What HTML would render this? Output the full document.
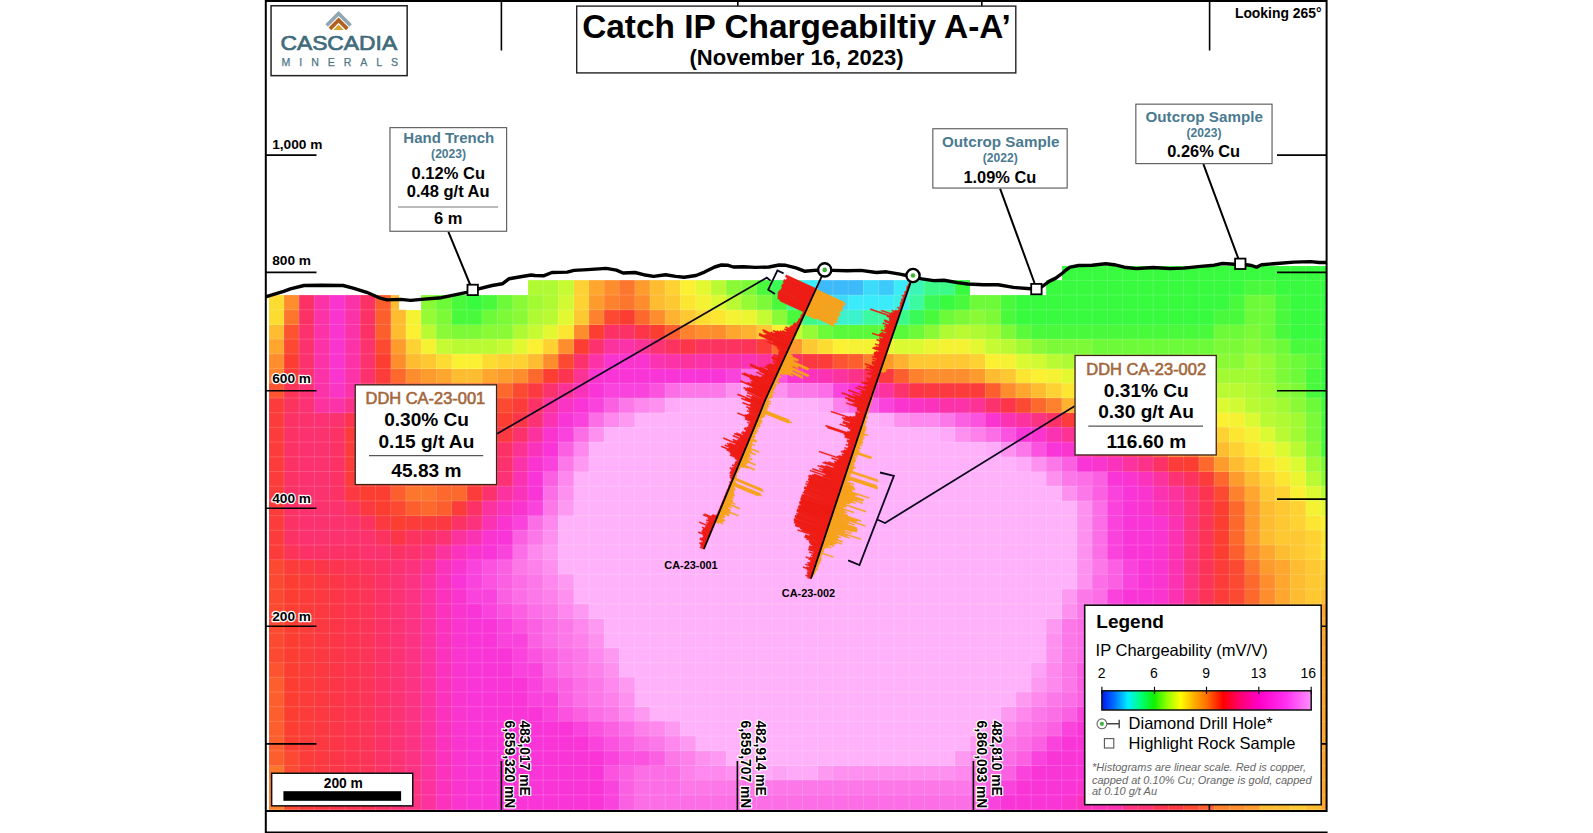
<!DOCTYPE html><html><head><meta charset="utf-8"><title>Catch IP Chargeability A-A'</title>
<style>html,body{margin:0;padding:0;background:#fff}body{width:1593px;height:833px;overflow:hidden}svg{display:block}text{font-family:"Liberation Sans",Arial,sans-serif}.b{font-weight:bold}.m{text-anchor:middle}.h{paint-order:stroke;stroke:#fff;stroke-width:2.4px;stroke-linejoin:round}</style></head><body>
<svg width="1593" height="833" viewBox="0 0 1593 833">
<rect width="1593" height="833" fill="#fff"/>
<g shape-rendering="crispEdges">
<path fill="#38fa3e" d="M1061.65 265.70H1327.00V280.40H1061.65zM954.90 280.40H970.15V295.10H954.90zM1046.40 280.40H1244.65V295.10H1046.40zM1275.15 280.40H1327.00V295.10H1275.15zM466.90 295.10H482.15V309.80H466.90zM939.65 295.10H954.90V309.80H939.65zM1015.90 295.10H1229.40V309.80H1015.90zM1290.40 295.10H1327.00V309.80H1290.40zM1015.90 309.80H1214.15V324.50H1015.90zM1290.40 309.80H1327.00V324.50H1290.40zM1290.40 324.50H1327.00V339.20H1290.40zM1320.90 339.20H1327.00V353.90H1320.90zM1320.90 353.90H1327.00V368.60H1320.90zM1320.90 368.60H1327.00V383.30H1320.90zM1320.90 383.30H1327.00V398.00H1320.90z"/>
<path fill="#affa32" d="M527.90 280.40H558.40V295.10H527.90zM543.15 295.10H558.40V309.80H543.15zM527.90 309.80H543.15V324.50H527.90zM512.65 324.50H527.90V339.20H512.65zM939.65 324.50H954.90V339.20H939.65zM970.15 324.50H985.40V339.20H970.15zM1061.65 353.90H1076.90V368.60H1061.65zM1107.40 368.60H1122.65V383.30H1107.40zM1137.90 383.30H1153.15V398.00H1137.90zM1244.65 383.30H1259.90V398.00H1244.65zM1259.90 398.00H1275.15V412.70H1259.90zM1275.15 412.70H1290.40V427.40H1275.15z"/>
<path fill="#c6fa32" d="M558.40 280.40H573.65V295.10H558.40zM756.65 309.80H771.90V324.50H756.65zM527.90 324.50H543.15V339.20H527.90zM787.15 324.50H802.40V339.20H787.15zM436.40 339.20H451.65V353.90H436.40zM497.40 339.20H512.65V353.90H497.40zM985.40 339.20H1000.65V353.90H985.40zM1183.65 383.30H1198.90V398.00H1183.65zM1153.15 398.00H1183.65V412.70H1153.15z"/>
<path fill="#fed232" d="M573.65 280.40H588.90V295.10H573.65zM665.15 280.40H680.40V295.10H665.15zM573.65 295.10H588.90V309.80H573.65zM405.90 339.20H421.15V353.90H405.90zM543.15 339.20H558.40V353.90H543.15zM497.40 353.90H527.90V368.60H497.40zM970.15 353.90H985.40V368.60H970.15zM1046.40 383.30H1061.65V398.00H1046.40zM1137.90 412.70H1153.15V427.40H1137.90zM1183.65 412.70H1198.90V427.40H1183.65zM1214.15 427.40H1229.40V442.10H1214.15zM1229.40 442.10H1244.65V456.80H1229.40zM1244.65 456.80H1259.90V471.50H1244.65zM1259.90 471.50H1275.15V486.20H1259.90zM1275.15 486.20H1290.40V500.90H1275.15zM1290.40 500.90H1305.65V515.60H1290.40zM1290.40 515.60H1305.65V530.30H1290.40zM1305.65 530.30H1320.90V545.00H1305.65zM1305.65 545.00H1320.90V559.70H1305.65zM1320.90 559.70H1327.00V574.40H1320.90z"/>
<path fill="#fea62e" d="M588.90 280.40H604.15V295.10H588.90zM726.15 324.50H741.40V339.20H726.15zM268.65 339.20H283.90V353.90H268.65zM436.40 368.60H451.65V383.30H436.40zM482.15 368.60H497.40V383.30H482.15zM1015.90 383.30H1031.15V398.00H1015.90zM1107.40 412.70H1122.65V427.40H1107.40zM1153.15 427.40H1168.40V442.10H1153.15zM1183.65 427.40H1198.90V442.10H1183.65zM1244.65 486.20H1259.90V500.90H1244.65zM1259.90 545.00H1275.15V559.70H1259.90zM1275.15 559.70H1290.40V574.40H1275.15zM1275.15 574.40H1290.40V589.10H1275.15zM1275.15 589.10H1290.40V603.80H1275.15zM1275.15 603.80H1290.40V618.50H1275.15zM1320.90 603.80H1327.00V618.50H1320.90zM1275.15 618.50H1290.40V633.20H1275.15zM1320.90 618.50H1327.00V633.20H1320.90zM1275.15 633.20H1290.40V647.90H1275.15zM1320.90 633.20H1327.00V647.90H1320.90zM1275.15 647.90H1290.40V662.60H1275.15zM1320.90 647.90H1327.00V662.60H1320.90zM1275.15 662.60H1290.40V677.30H1275.15zM1320.90 662.60H1327.00V677.30H1320.90zM1275.15 677.30H1290.40V692.00H1275.15zM1320.90 677.30H1327.00V692.00H1320.90zM1275.15 692.00H1290.40V706.70H1275.15zM1320.90 692.00H1327.00V706.70H1320.90zM1275.15 706.70H1290.40V721.40H1275.15zM1320.90 706.70H1327.00V721.40H1320.90zM1275.15 721.40H1290.40V736.10H1275.15zM1320.90 721.40H1327.00V736.10H1320.90zM1275.15 736.10H1290.40V750.80H1275.15zM1320.90 736.10H1327.00V750.80H1320.90zM1275.15 750.80H1290.40V765.50H1275.15zM1320.90 750.80H1327.00V765.50H1320.90zM1275.15 765.50H1290.40V780.20H1275.15zM1320.90 765.50H1327.00V780.20H1320.90zM1275.15 780.20H1290.40V794.90H1275.15zM1320.90 780.20H1327.00V794.90H1320.90zM1320.90 794.90H1327.00V809.60H1320.90z"/>
<path fill="#fe8e2d" d="M604.15 280.40H619.40V295.10H604.15zM283.90 295.10H299.15V309.80H283.90zM634.65 295.10H649.90V309.80H634.65zM649.90 309.80H665.15V324.50H649.90zM573.65 324.50H588.90V339.20H573.65zM695.65 324.50H726.15V339.20H695.65zM558.40 339.20H573.65V353.90H558.40zM268.65 353.90H283.90V368.60H268.65zM390.65 353.90H405.90V368.60H390.65zM543.15 353.90H558.40V368.60H543.15zM405.90 368.60H421.15V383.30H405.90zM512.65 368.60H527.90V383.30H512.65zM924.40 368.60H970.15V383.30H924.40zM1000.65 383.30H1015.90V398.00H1000.65zM1092.15 412.70H1107.40V427.40H1092.15zM1137.90 427.40H1153.15V442.10H1137.90zM1244.65 545.00H1259.90V559.70H1244.65zM1259.90 574.40H1275.15V589.10H1259.90zM1259.90 589.10H1275.15V603.80H1259.90zM1259.90 603.80H1275.15V618.50H1259.90zM1259.90 618.50H1275.15V633.20H1259.90zM1259.90 633.20H1275.15V647.90H1259.90zM1259.90 647.90H1275.15V662.60H1259.90zM1259.90 662.60H1275.15V677.30H1259.90zM1259.90 677.30H1275.15V692.00H1259.90zM1259.90 692.00H1275.15V706.70H1259.90zM1259.90 706.70H1275.15V721.40H1259.90zM1259.90 721.40H1275.15V736.10H1259.90zM1259.90 736.10H1275.15V750.80H1259.90zM1259.90 750.80H1275.15V765.50H1259.90zM1259.90 765.50H1275.15V780.20H1259.90zM1229.40 794.90H1244.65V809.60H1229.40z"/>
<path fill="#fd762d" d="M619.40 280.40H634.65V295.10H619.40zM619.40 295.10H634.65V309.80H619.40zM283.90 309.80H299.15V324.50H283.90zM451.65 383.30H482.15V398.00H451.65zM1183.65 442.10H1198.90V456.80H1183.65zM405.90 486.20H436.40V500.90H405.90zM1244.65 559.70H1259.90V574.40H1244.65zM268.65 765.50H283.90V780.20H268.65zM1244.65 780.20H1259.90V794.90H1244.65z"/>
<path fill="#fe9b2d" d="M634.65 280.40H649.90V295.10H634.65zM588.90 295.10H604.15V309.80H588.90zM390.65 339.20H405.90V353.90H390.65zM787.15 339.20H802.40V353.90H787.15zM878.65 353.90H893.90V368.60H878.65zM421.15 368.60H436.40V383.30H421.15zM497.40 368.60H512.65V383.30H497.40zM970.15 368.60H985.40V383.30H970.15zM1198.90 442.10H1214.15V456.80H1198.90zM1214.15 456.80H1229.40V471.50H1214.15zM1229.40 471.50H1244.65V486.20H1229.40zM1244.65 500.90H1259.90V515.60H1244.65zM1244.65 515.60H1259.90V530.30H1244.65zM1244.65 530.30H1259.90V545.00H1244.65zM1259.90 559.70H1275.15V574.40H1259.90zM1259.90 780.20H1275.15V794.90H1259.90zM1244.65 794.90H1259.90V809.60H1244.65z"/>
<path fill="#febd31" d="M649.90 280.40H665.15V295.10H649.90zM390.65 295.10H405.90V309.80H390.65zM649.90 295.10H665.15V309.80H649.90zM390.65 309.80H405.90V324.50H390.65zM268.65 324.50H283.90V339.20H268.65zM390.65 324.50H405.90V339.20H390.65zM405.90 353.90H421.15V368.60H405.90zM527.90 353.90H543.15V368.60H527.90zM451.65 368.60H482.15V383.30H451.65zM985.40 368.60H1000.65V383.30H985.40zM1031.15 383.30H1046.40V398.00H1031.15zM1122.65 412.70H1137.90V427.40H1122.65zM1168.40 427.40H1183.65V442.10H1168.40zM1198.90 427.40H1214.15V442.10H1198.90zM1214.15 442.10H1229.40V456.80H1214.15zM1229.40 456.80H1244.65V471.50H1229.40zM1244.65 471.50H1259.90V486.20H1244.65zM1259.90 500.90H1275.15V515.60H1259.90zM1259.90 515.60H1275.15V530.30H1259.90zM1259.90 530.30H1275.15V545.00H1259.90zM1275.15 545.00H1290.40V559.70H1275.15zM1290.40 559.70H1305.65V574.40H1290.40zM1290.40 574.40H1305.65V589.10H1290.40zM1290.40 589.10H1305.65V603.80H1290.40zM1320.90 589.10H1327.00V603.80H1320.90zM1290.40 603.80H1320.90V618.50H1290.40zM1290.40 618.50H1320.90V633.20H1290.40zM1290.40 633.20H1320.90V647.90H1290.40zM1290.40 647.90H1320.90V662.60H1290.40zM1290.40 662.60H1320.90V677.30H1290.40zM1290.40 677.30H1320.90V692.00H1290.40zM1290.40 692.00H1320.90V706.70H1290.40zM1290.40 706.70H1320.90V721.40H1290.40zM1290.40 721.40H1320.90V736.10H1290.40zM1290.40 736.10H1320.90V750.80H1290.40zM1290.40 750.80H1320.90V765.50H1290.40zM1290.40 765.50H1320.90V780.20H1290.40zM1290.40 780.20H1320.90V794.90H1290.40zM1259.90 794.90H1290.40V809.60H1259.90zM1305.65 794.90H1320.90V809.60H1305.65z"/>
<path fill="#fcf032" d="M680.40 280.40H695.65V295.10H680.40zM405.90 324.50H421.15V339.20H405.90zM771.90 324.50H787.15V339.20H771.90zM527.90 339.20H543.15V353.90H527.90zM832.90 339.20H848.15V353.90H832.90zM451.65 353.90H482.15V368.60H451.65zM985.40 353.90H1000.65V368.60H985.40zM1031.15 368.60H1046.40V383.30H1031.15zM1107.40 398.00H1122.65V412.70H1107.40zM1153.15 412.70H1183.65V427.40H1153.15zM1214.15 412.70H1229.40V427.40H1214.15zM1290.40 486.20H1305.65V500.90H1290.40zM1320.90 515.60H1327.00V530.30H1320.90z"/>
<path fill="#e4f832" d="M695.65 280.40H710.90V295.10H695.65zM558.40 309.80H573.65V324.50H558.40zM543.15 324.50H558.40V339.20H543.15zM512.65 339.20H527.90V353.90H512.65zM970.15 339.20H985.40V353.90H970.15zM1061.65 368.60H1076.90V383.30H1061.65zM1092.15 383.30H1107.40V398.00H1092.15zM1122.65 398.00H1137.90V412.70H1122.65zM1198.90 398.00H1214.15V412.70H1198.90zM1320.90 500.90H1327.00V515.60H1320.90z"/>
<path fill="#bafa32" d="M710.90 280.40H726.15V295.10H710.90zM726.15 295.10H741.40V309.80H726.15zM543.15 309.80H558.40V324.50H543.15zM421.15 324.50H436.40V339.20H421.15zM954.90 324.50H970.15V339.20H954.90zM451.65 339.20H497.40V353.90H451.65zM1000.65 339.20H1015.90V353.90H1000.65zM1046.40 353.90H1061.65V368.60H1046.40zM1092.15 368.60H1107.40V383.30H1092.15zM1122.65 383.30H1137.90V398.00H1122.65zM1198.90 383.30H1244.65V398.00H1198.90zM1244.65 398.00H1259.90V412.70H1244.65zM1259.90 412.70H1275.15V427.40H1259.90zM1275.15 427.40H1290.40V442.10H1275.15zM1290.40 442.10H1305.65V456.80H1290.40zM1305.65 471.50H1320.90V486.20H1305.65zM1320.90 486.20H1327.00V500.90H1320.90z"/>
<path fill="#8afa36" d="M726.15 280.40H741.40V295.10H726.15zM421.15 295.10H436.40V309.80H421.15zM512.65 295.10H527.90V309.80H512.65zM512.65 309.80H527.90V324.50H512.65zM771.90 309.80H787.15V324.50H771.90zM970.15 309.80H985.40V324.50H970.15zM436.40 324.50H451.65V339.20H436.40zM482.15 324.50H512.65V339.20H482.15zM924.40 324.50H939.65V339.20H924.40zM1031.15 339.20H1046.40V353.90H1031.15zM1244.65 339.20H1259.90V353.90H1244.65zM1092.15 353.90H1137.90V368.60H1092.15zM1183.65 353.90H1244.65V368.60H1183.65zM1137.90 368.60H1183.65V383.30H1137.90zM1275.15 383.30H1290.40V398.00H1275.15zM1290.40 398.00H1305.65V412.70H1290.40zM1305.65 442.10H1320.90V456.80H1305.65zM1320.90 471.50H1327.00V486.20H1320.90z"/>
<path fill="#7dfa37" d="M741.40 280.40H756.65V295.10H741.40zM756.65 295.10H771.90V309.80H756.65zM436.40 309.80H451.65V324.50H436.40zM497.40 309.80H512.65V324.50H497.40zM954.90 309.80H970.15V324.50H954.90zM985.40 309.80H1000.65V324.50H985.40zM451.65 324.50H482.15V339.20H451.65zM1000.65 324.50H1015.90V339.20H1000.65zM1244.65 324.50H1259.90V339.20H1244.65zM1046.40 339.20H1092.15V353.90H1046.40zM1214.15 339.20H1244.65V353.90H1214.15zM1259.90 339.20H1275.15V353.90H1259.90zM1137.90 353.90H1183.65V368.60H1137.90zM1275.15 353.90H1290.40V368.60H1275.15zM1275.15 368.60H1290.40V383.30H1275.15zM1290.40 383.30H1305.65V398.00H1290.40zM1305.65 412.70H1320.90V427.40H1305.65zM1305.65 427.40H1320.90V442.10H1305.65zM1320.90 456.80H1327.00V471.50H1320.90z"/>
<path fill="#49fa3c" d="M756.65 280.40H771.90V295.10H756.65zM1244.65 280.40H1275.15V295.10H1244.65zM451.65 295.10H466.90V309.80H451.65zM482.15 295.10H497.40V309.80H482.15zM771.90 295.10H787.15V309.80H771.90zM954.90 295.10H970.15V309.80H954.90zM1000.65 295.10H1015.90V309.80H1000.65zM1229.40 295.10H1244.65V309.80H1229.40zM1275.15 295.10H1290.40V309.80H1275.15zM451.65 309.80H482.15V324.50H451.65zM787.15 309.80H802.40V324.50H787.15zM924.40 309.80H939.65V324.50H924.40zM1000.65 309.80H1015.90V324.50H1000.65zM1214.15 309.80H1244.65V324.50H1214.15zM1275.15 309.80H1290.40V324.50H1275.15zM1031.15 324.50H1214.15V339.20H1031.15zM1275.15 324.50H1290.40V339.20H1275.15zM1290.40 339.20H1320.90V353.90H1290.40zM1305.65 368.60H1320.90V383.30H1305.65zM1305.65 383.30H1320.90V398.00H1305.65zM1320.90 398.00H1327.00V412.70H1320.90zM1320.90 412.70H1327.00V427.40H1320.90zM1320.90 427.40H1327.00V442.10H1320.90zM1320.90 442.10H1327.00V456.80H1320.90z"/>
<path fill="#39fa56" d="M771.90 280.40H787.15V295.10H771.90zM924.40 295.10H939.65V309.80H924.40zM909.15 309.80H924.40V324.50H909.15z"/>
<path fill="#3cfaa0" d="M787.15 280.40H802.40V295.10H787.15zM909.15 295.10H924.40V309.80H909.15zM817.65 309.80H832.90V324.50H817.65zM863.40 309.80H893.90V324.50H863.40z"/>
<path fill="#3cebfa" d="M802.40 280.40H817.65V295.10H802.40zM893.90 280.40H909.15V295.10H893.90zM817.65 295.10H832.90V309.80H817.65zM848.15 295.10H893.90V309.80H848.15z"/>
<path fill="#3cbafa" d="M817.65 280.40H863.40V295.10H817.65z"/>
<path fill="#3cdbfa" d="M863.40 280.40H878.65V295.10H863.40zM832.90 295.10H848.15V309.80H832.90z"/>
<path fill="#3ccafa" d="M878.65 280.40H893.90V295.10H878.65z"/>
<path fill="#3cf6b6" d="M909.15 280.40H924.40V295.10H909.15z"/>
<path fill="#3bfa88" d="M924.40 280.40H954.90V295.10H924.40zM787.15 295.10H802.40V309.80H787.15zM802.40 309.80H817.65V324.50H802.40zM893.90 309.80H909.15V324.50H893.90z"/>
<path fill="#fddc32" d="M268.65 295.10H283.90V309.80H268.65zM268.65 309.80H283.90V324.50H268.65zM695.65 309.80H710.90V324.50H695.65zM817.65 339.20H832.90V353.90H817.65zM436.40 353.90H451.65V368.60H436.40zM482.15 353.90H497.40V368.60H482.15zM1198.90 412.70H1214.15V427.40H1198.90z"/>
<path fill="#fc3266" d="M299.15 295.10H314.40V309.80H299.15zM360.15 295.10H375.40V309.80H360.15zM299.15 309.80H314.40V324.50H299.15zM360.15 309.80H375.40V324.50H360.15zM360.15 324.50H375.40V339.20H360.15zM604.15 324.50H634.65V339.20H604.15zM863.40 368.60H878.65V383.30H863.40zM360.15 398.00H375.40V412.70H360.15zM527.90 398.00H543.15V412.70H527.90zM283.90 412.70H299.15V427.40H283.90zM1046.40 412.70H1061.65V427.40H1046.40zM283.90 427.40H299.15V442.10H283.90zM329.65 427.40H344.90V442.10H329.65zM1076.90 427.40H1092.15V442.10H1076.90zM283.90 442.10H299.15V456.80H283.90zM329.65 442.10H344.90V456.80H329.65zM497.40 442.10H512.65V456.80H497.40zM283.90 456.80H299.15V471.50H283.90zM329.65 456.80H344.90V471.50H329.65zM1153.15 456.80H1168.40V471.50H1153.15zM283.90 471.50H299.15V486.20H283.90zM329.65 471.50H344.90V486.20H329.65zM283.90 486.20H299.15V500.90H283.90zM329.65 486.20H344.90V500.90H329.65zM283.90 500.90H299.15V515.60H283.90zM466.90 500.90H482.15V515.60H466.90zM283.90 515.60H299.15V530.30H283.90zM451.65 515.60H466.90V530.30H451.65zM283.90 530.30H299.15V545.00H283.90zM421.15 530.30H436.40V545.00H421.15zM299.15 545.00H360.15V559.70H299.15zM390.65 545.00H405.90V559.70H390.65zM375.40 559.70H390.65V574.40H375.40zM375.40 574.40H390.65V589.10H375.40zM375.40 589.10H390.65V603.80H375.40zM375.40 603.80H390.65V618.50H375.40zM375.40 618.50H390.65V633.20H375.40zM375.40 633.20H390.65V647.90H375.40zM375.40 647.90H390.65V662.60H375.40zM375.40 662.60H390.65V677.30H375.40zM375.40 677.30H390.65V692.00H375.40zM375.40 692.00H390.65V706.70H375.40zM375.40 706.70H390.65V721.40H375.40zM375.40 721.40H390.65V736.10H375.40zM375.40 736.10H390.65V750.80H375.40zM375.40 750.80H390.65V765.50H375.40zM375.40 765.50H390.65V780.20H375.40zM375.40 780.20H390.65V794.90H375.40zM375.40 794.90H390.65V809.60H375.40z"/>
<path fill="#fb32a8" d="M314.40 295.10H329.65V309.80H314.40zM344.90 295.10H360.15V309.80H344.90zM314.40 309.80H329.65V324.50H314.40zM344.90 309.80H360.15V324.50H344.90zM314.40 324.50H329.65V339.20H314.40zM344.90 324.50H360.15V339.20H344.90zM314.40 339.20H329.65V353.90H314.40zM344.90 339.20H360.15V353.90H344.90zM619.40 339.20H634.65V353.90H619.40zM314.40 353.90H329.65V368.60H314.40zM344.90 353.90H360.15V368.60H344.90zM588.90 353.90H604.15V368.60H588.90zM665.15 353.90H680.40V368.60H665.15zM695.65 353.90H741.40V368.60H695.65zM314.40 368.60H329.65V383.30H314.40zM344.90 368.60H360.15V383.30H344.90zM314.40 383.30H329.65V398.00H314.40zM344.90 383.30H360.15V398.00H344.90zM329.65 398.00H344.90V412.70H329.65zM939.65 398.00H970.15V412.70H939.65zM1076.90 442.10H1092.15V456.80H1076.90zM512.65 456.80H527.90V471.50H512.65zM1168.40 500.90H1183.65V515.60H1168.40z"/>
<path fill="#fa34ce" d="M329.65 295.10H344.90V309.80H329.65zM329.65 309.80H344.90V324.50H329.65zM329.65 324.50H344.90V339.20H329.65zM329.65 339.20H344.90V353.90H329.65zM329.65 353.90H344.90V368.60H329.65zM604.15 353.90H649.90V368.60H604.15zM329.65 368.60H344.90V383.30H329.65zM588.90 368.60H604.15V383.30H588.90zM787.15 368.60H802.40V383.30H787.15zM893.90 398.00H909.15V412.70H893.90zM985.40 412.70H1000.65V427.40H985.40zM543.15 427.40H558.40V442.10H543.15zM1031.15 427.40H1046.40V442.10H1031.15zM1061.65 442.10H1076.90V456.80H1061.65zM527.90 456.80H543.15V471.50H527.90zM1092.15 456.80H1107.40V471.50H1092.15zM1122.65 471.50H1137.90V486.20H1122.65zM1137.90 486.20H1153.15V500.90H1137.90zM512.65 500.90H527.90V515.60H512.65zM1137.90 500.90H1153.15V515.60H1137.90zM497.40 515.60H512.65V530.30H497.40zM1153.15 515.60H1168.40V530.30H1153.15zM482.15 530.30H497.40V545.00H482.15zM1153.15 530.30H1168.40V545.00H1153.15zM466.90 545.00H482.15V559.70H466.90zM1153.15 545.00H1168.40V559.70H1153.15zM451.65 559.70H466.90V574.40H451.65zM1153.15 559.70H1168.40V574.40H1153.15zM1153.15 574.40H1168.40V589.10H1153.15zM451.65 589.10H466.90V603.80H451.65zM1153.15 589.10H1168.40V603.80H1153.15zM451.65 603.80H466.90V618.50H451.65zM1153.15 603.80H1168.40V618.50H1153.15zM451.65 618.50H466.90V633.20H451.65zM1153.15 618.50H1168.40V633.20H1153.15zM451.65 633.20H466.90V647.90H451.65zM1153.15 633.20H1168.40V647.90H1153.15zM451.65 647.90H466.90V662.60H451.65zM1153.15 647.90H1168.40V662.60H1153.15zM451.65 662.60H466.90V677.30H451.65zM1153.15 662.60H1168.40V677.30H1153.15zM451.65 677.30H466.90V692.00H451.65zM1153.15 677.30H1168.40V692.00H1153.15zM451.65 692.00H466.90V706.70H451.65zM1153.15 692.00H1168.40V706.70H1153.15zM451.65 706.70H466.90V721.40H451.65zM1153.15 706.70H1168.40V721.40H1153.15zM451.65 721.40H466.90V736.10H451.65zM1153.15 721.40H1168.40V736.10H1153.15zM451.65 736.10H466.90V750.80H451.65zM1153.15 736.10H1168.40V750.80H1153.15zM451.65 750.80H466.90V765.50H451.65zM1153.15 750.80H1168.40V765.50H1153.15zM451.65 765.50H466.90V780.20H451.65zM1153.15 765.50H1168.40V780.20H1153.15zM451.65 780.20H466.90V794.90H451.65zM1076.90 780.20H1122.65V794.90H1076.90zM451.65 794.90H466.90V809.60H451.65zM1061.65 794.90H1076.90V809.60H1061.65z"/>
<path fill="#fd5e2e" d="M375.40 295.10H390.65V309.80H375.40zM375.40 309.80H390.65V324.50H375.40zM375.40 324.50H390.65V339.20H375.40zM665.15 324.50H680.40V339.20H665.15zM848.15 353.90H863.40V368.60H848.15zM893.90 368.60H909.15V383.30H893.90zM405.90 383.30H421.15V398.00H405.90zM985.40 383.30H1000.65V398.00H985.40zM1076.90 412.70H1092.15V427.40H1076.90zM1153.15 442.10H1168.40V456.80H1153.15zM390.65 486.20H405.90V500.90H390.65zM405.90 500.90H421.15V515.60H405.90zM436.40 500.90H451.65V515.60H436.40zM1229.40 545.00H1244.65V559.70H1229.40zM268.65 677.30H283.90V692.00H268.65zM268.65 692.00H283.90V706.70H268.65zM268.65 706.70H283.90V721.40H268.65zM268.65 721.40H283.90V736.10H268.65zM268.65 736.10H283.90V750.80H268.65zM268.65 750.80H283.90V765.50H268.65zM1198.90 794.90H1214.15V809.60H1198.90z"/>
<path fill="#6cfa39" d="M436.40 295.10H451.65V309.80H436.40zM497.40 295.10H512.65V309.80H497.40zM970.15 295.10H1000.65V309.80H970.15zM1244.65 295.10H1275.15V309.80H1244.65zM482.15 309.80H497.40V324.50H482.15zM939.65 309.80H954.90V324.50H939.65zM1244.65 309.80H1275.15V324.50H1244.65zM817.65 324.50H832.90V339.20H817.65zM909.15 324.50H924.40V339.20H909.15zM1214.15 324.50H1244.65V339.20H1214.15zM1259.90 324.50H1275.15V339.20H1259.90zM1092.15 339.20H1214.15V353.90H1092.15zM1275.15 339.20H1290.40V353.90H1275.15zM1290.40 353.90H1305.65V368.60H1290.40zM1290.40 368.60H1305.65V383.30H1290.40zM1305.65 398.00H1320.90V412.70H1305.65z"/>
<path fill="#a2fa33" d="M527.90 295.10H543.15V309.80H527.90zM985.40 324.50H1000.65V339.20H985.40zM1015.90 339.20H1031.15V353.90H1015.90zM1076.90 353.90H1092.15V368.60H1076.90zM1244.65 353.90H1259.90V368.60H1244.65zM1122.65 368.60H1137.90V383.30H1122.65zM1183.65 368.60H1259.90V383.30H1183.65zM1153.15 383.30H1168.40V398.00H1153.15zM1259.90 383.30H1275.15V398.00H1259.90zM1275.15 398.00H1290.40V412.70H1275.15zM1290.40 412.70H1305.65V427.40H1290.40zM1290.40 427.40H1305.65V442.10H1290.40zM1305.65 456.80H1320.90V471.50H1305.65z"/>
<path fill="#d1fa32" d="M558.40 295.10H573.65V309.80H558.40zM1031.15 353.90H1046.40V368.60H1031.15zM1076.90 368.60H1092.15V383.30H1076.90zM1107.40 383.30H1122.65V398.00H1107.40zM1229.40 398.00H1244.65V412.70H1229.40z"/>
<path fill="#fe822d" d="M604.15 295.10H619.40V309.80H604.15zM588.90 309.80H604.15V324.50H588.90zM680.40 324.50H695.65V339.20H680.40zM863.40 353.90H878.65V368.60H863.40zM268.65 368.60H283.90V383.30H268.65zM909.15 368.60H924.40V383.30H909.15zM1046.40 398.00H1061.65V412.70H1046.40zM1168.40 442.10H1183.65V456.80H1168.40zM1229.40 486.20H1244.65V500.90H1229.40zM268.65 780.20H283.90V794.90H268.65zM268.65 794.90H283.90V809.60H268.65zM1214.15 794.90H1229.40V809.60H1214.15z"/>
<path fill="#fec832" d="M665.15 295.10H680.40V309.80H665.15zM573.65 309.80H588.90V324.50H573.65zM680.40 309.80H695.65V324.50H680.40zM756.65 324.50H771.90V339.20H756.65zM802.40 339.20H817.65V353.90H802.40zM421.15 353.90H436.40V368.60H421.15zM909.15 353.90H970.15V368.60H909.15zM1000.65 368.60H1015.90V383.30H1000.65zM1076.90 398.00H1092.15V412.70H1076.90zM1259.90 486.20H1275.15V500.90H1259.90zM1275.15 500.90H1290.40V515.60H1275.15zM1275.15 515.60H1290.40V530.30H1275.15zM1275.15 530.30H1305.65V545.00H1275.15zM1290.40 545.00H1305.65V559.70H1290.40zM1305.65 559.70H1320.90V574.40H1305.65zM1305.65 574.40H1327.00V589.10H1305.65zM1305.65 589.10H1320.90V603.80H1305.65zM1290.40 794.90H1305.65V809.60H1290.40z"/>
<path fill="#fce632" d="M680.40 295.10H695.65V309.80H680.40zM710.90 309.80H726.15V324.50H710.90zM558.40 324.50H573.65V339.20H558.40zM1015.90 368.60H1031.15V383.30H1015.90zM1061.65 383.30H1076.90V398.00H1061.65zM1092.15 398.00H1107.40V412.70H1092.15zM1229.40 427.40H1244.65V442.10H1229.40zM1244.65 442.10H1259.90V456.80H1244.65zM1259.90 456.80H1275.15V471.50H1259.90zM1275.15 471.50H1290.40V486.20H1275.15zM1305.65 515.60H1320.90V530.30H1305.65zM1320.90 530.30H1327.00V545.00H1320.90zM1320.90 545.00H1327.00V559.70H1320.90z"/>
<path fill="#f4f232" d="M695.65 295.10H710.90V309.80H695.65zM405.90 309.80H421.15V324.50H405.90zM726.15 309.80H741.40V324.50H726.15zM421.15 339.20H436.40V353.90H421.15zM848.15 339.20H878.65V353.90H848.15zM939.65 339.20H970.15V353.90H939.65zM1000.65 353.90H1015.90V368.60H1000.65zM1046.40 368.60H1061.65V383.30H1046.40zM1076.90 383.30H1092.15V398.00H1076.90zM1229.40 412.70H1244.65V427.40H1229.40zM1244.65 427.40H1259.90V442.10H1244.65zM1259.90 442.10H1275.15V456.80H1259.90zM1275.15 456.80H1290.40V471.50H1275.15zM1305.65 500.90H1320.90V515.60H1305.65z"/>
<path fill="#dcfa32" d="M710.90 295.10H726.15V309.80H710.90zM893.90 339.20H924.40V353.90H893.90zM1015.90 353.90H1031.15V368.60H1015.90zM1137.90 398.00H1153.15V412.70H1137.90zM1214.15 398.00H1229.40V412.70H1214.15zM1244.65 412.70H1259.90V427.40H1244.65zM1259.90 427.40H1275.15V442.10H1259.90zM1275.15 442.10H1290.40V456.80H1275.15zM1290.40 456.80H1305.65V471.50H1290.40zM1305.65 486.20H1320.90V500.90H1305.65z"/>
<path fill="#96fa34" d="M741.40 295.10H756.65V309.80H741.40zM421.15 309.80H436.40V324.50H421.15zM802.40 324.50H817.65V339.20H802.40zM1259.90 353.90H1275.15V368.60H1259.90zM1259.90 368.60H1275.15V383.30H1259.90zM1168.40 383.30H1183.65V398.00H1168.40z"/>
<path fill="#3cefe4" d="M802.40 295.10H817.65V309.80H802.40zM893.90 295.10H909.15V309.80H893.90z"/>
<path fill="#fc4931" d="M604.15 309.80H619.40V324.50H604.15zM283.90 339.20H299.15V353.90H283.90zM375.40 339.20H390.65V353.90H375.40zM558.40 353.90H573.65V368.60H558.40zM390.65 383.30H405.90V398.00H390.65zM512.65 383.30H527.90V398.00H512.65zM405.90 398.00H512.65V412.70H405.90zM1015.90 398.00H1031.15V412.70H1015.90zM1107.40 427.40H1122.65V442.10H1107.40zM390.65 471.50H466.90V486.20H390.65zM1214.15 486.20H1229.40V500.90H1214.15zM390.65 500.90H405.90V515.60H390.65zM268.65 559.70H283.90V574.40H268.65zM1229.40 559.70H1244.65V574.40H1229.40zM268.65 574.40H283.90V589.10H268.65zM1229.40 574.40H1244.65V589.10H1229.40zM268.65 589.10H283.90V603.80H268.65zM1229.40 589.10H1244.65V603.80H1229.40zM268.65 603.80H283.90V618.50H268.65zM1229.40 603.80H1244.65V618.50H1229.40zM268.65 618.50H283.90V633.20H268.65zM1229.40 618.50H1244.65V633.20H1229.40zM268.65 633.20H283.90V647.90H268.65zM1229.40 633.20H1244.65V647.90H1229.40zM268.65 647.90H283.90V662.60H268.65zM1229.40 647.90H1244.65V662.60H1229.40zM1229.40 662.60H1244.65V677.30H1229.40zM1229.40 677.30H1244.65V692.00H1229.40zM1229.40 692.00H1244.65V706.70H1229.40zM1229.40 706.70H1244.65V721.40H1229.40zM1229.40 721.40H1244.65V736.10H1229.40zM1229.40 736.10H1244.65V750.80H1229.40zM283.90 750.80H299.15V765.50H283.90zM1229.40 750.80H1244.65V765.50H1229.40zM283.90 765.50H299.15V780.20H283.90zM1229.40 765.50H1244.65V780.20H1229.40zM283.90 780.20H299.15V794.90H283.90zM1214.15 780.20H1229.40V794.90H1214.15zM283.90 794.90H299.15V809.60H283.90zM1183.65 794.90H1198.90V809.60H1183.65z"/>
<path fill="#fc3e32" d="M619.40 309.80H634.65V324.50H619.40zM588.90 324.50H604.15V339.20H588.90zM649.90 324.50H665.15V339.20H649.90zM573.65 339.20H588.90V353.90H573.65zM283.90 353.90H299.15V368.60H283.90zM375.40 353.90H390.65V368.60H375.40zM543.15 368.60H558.40V383.30H543.15zM390.65 398.00H405.90V412.70H390.65zM375.40 412.70H512.65V427.40H375.40zM360.15 427.40H497.40V442.10H360.15zM360.15 442.10H482.15V456.80H360.15zM360.15 456.80H482.15V471.50H360.15zM1183.65 456.80H1198.90V471.50H1183.65zM360.15 471.50H390.65V486.20H360.15zM466.90 471.50H482.15V486.20H466.90zM360.15 486.20H390.65V500.90H360.15zM375.40 500.90H390.65V515.60H375.40zM1214.15 500.90H1229.40V515.60H1214.15zM390.65 515.60H405.90V530.30H390.65zM1214.15 515.60H1229.40V530.30H1214.15zM1214.15 530.30H1229.40V545.00H1214.15zM1214.15 545.00H1229.40V559.70H1214.15zM283.90 574.40H299.15V589.10H283.90zM283.90 589.10H299.15V603.80H283.90zM283.90 603.80H299.15V618.50H283.90zM283.90 618.50H299.15V633.20H283.90zM283.90 633.20H299.15V647.90H283.90zM283.90 647.90H299.15V662.60H283.90zM283.90 662.60H299.15V677.30H283.90zM283.90 677.30H299.15V692.00H283.90zM283.90 692.00H299.15V706.70H283.90zM283.90 706.70H299.15V721.40H283.90zM283.90 721.40H299.15V736.10H283.90zM283.90 736.10H299.15V750.80H283.90z"/>
<path fill="#fd692d" d="M634.65 309.80H649.90V324.50H634.65zM771.90 339.20H787.15V353.90H771.90zM390.65 368.60H405.90V383.30H390.65zM527.90 368.60H543.15V383.30H527.90zM421.15 383.30H451.65V398.00H421.15zM482.15 383.30H512.65V398.00H482.15zM1031.15 398.00H1046.40V412.70H1031.15zM1122.65 427.40H1137.90V442.10H1122.65zM1198.90 456.80H1214.15V471.50H1198.90zM1214.15 471.50H1229.40V486.20H1214.15zM436.40 486.20H466.90V500.90H436.40zM421.15 500.90H436.40V515.60H421.15zM1229.40 500.90H1244.65V515.60H1229.40zM1229.40 515.60H1244.65V530.30H1229.40zM1229.40 530.30H1244.65V545.00H1229.40zM1244.65 574.40H1259.90V589.10H1244.65zM1244.65 589.10H1259.90V603.80H1244.65zM1244.65 603.80H1259.90V618.50H1244.65zM1244.65 618.50H1259.90V633.20H1244.65zM1244.65 633.20H1259.90V647.90H1244.65zM1244.65 647.90H1259.90V662.60H1244.65zM1244.65 662.60H1259.90V677.30H1244.65zM1244.65 677.30H1259.90V692.00H1244.65zM1244.65 692.00H1259.90V706.70H1244.65zM1244.65 706.70H1259.90V721.40H1244.65zM1244.65 721.40H1259.90V736.10H1244.65zM1244.65 736.10H1259.90V750.80H1244.65zM1244.65 750.80H1259.90V765.50H1244.65zM1244.65 765.50H1259.90V780.20H1244.65z"/>
<path fill="#feb230" d="M665.15 309.80H680.40V324.50H665.15zM741.40 324.50H756.65V339.20H741.40zM893.90 353.90H909.15V368.60H893.90zM1061.65 398.00H1076.90V412.70H1061.65z"/>
<path fill="#ecf532" d="M741.40 309.80H756.65V324.50H741.40zM878.65 339.20H893.90V353.90H878.65zM924.40 339.20H939.65V353.90H924.40zM1183.65 398.00H1198.90V412.70H1183.65zM1290.40 471.50H1305.65V486.20H1290.40z"/>
<path fill="#3cf2cd" d="M832.90 309.80H863.40V324.50H832.90z"/>
<path fill="#fc5430" d="M283.90 324.50H299.15V339.20H283.90zM832.90 353.90H848.15V368.60H832.90zM268.65 383.30H283.90V398.00H268.65zM268.65 662.60H283.90V677.30H268.65zM1229.40 780.20H1244.65V794.90H1229.40z"/>
<path fill="#fc326e" d="M299.15 324.50H314.40V339.20H299.15zM299.15 339.20H314.40V353.90H299.15zM360.15 339.20H375.40V353.90H360.15zM588.90 339.20H604.15V353.90H588.90zM299.15 353.90H314.40V368.60H299.15zM360.15 353.90H375.40V368.60H360.15zM573.65 353.90H588.90V368.60H573.65zM299.15 368.60H314.40V383.30H299.15zM360.15 368.60H375.40V383.30H360.15zM360.15 383.30H375.40V398.00H360.15zM543.15 383.30H558.40V398.00H543.15zM893.90 383.30H909.15V398.00H893.90zM985.40 398.00H1000.65V412.70H985.40zM299.15 412.70H314.40V427.40H299.15zM329.65 412.70H344.90V427.40H329.65zM299.15 427.40H329.65V442.10H299.15zM512.65 427.40H527.90V442.10H512.65zM299.15 442.10H329.65V456.80H299.15zM1107.40 442.10H1122.65V456.80H1107.40zM299.15 456.80H329.65V471.50H299.15zM497.40 456.80H512.65V471.50H497.40zM299.15 471.50H329.65V486.20H299.15zM299.15 486.20H329.65V500.90H299.15zM482.15 486.20H497.40V500.90H482.15zM299.15 500.90H344.90V515.60H299.15zM299.15 515.60H360.15V530.30H299.15zM299.15 530.30H375.40V545.00H299.15zM360.15 545.00H390.65V559.70H360.15zM405.90 545.00H421.15V559.70H405.90z"/>
<path fill="#fc3648" d="M634.65 324.50H649.90V339.20H634.65zM680.40 339.20H695.65V353.90H680.40zM909.15 383.30H924.40V398.00H909.15zM1000.65 398.00H1015.90V412.70H1000.65zM512.65 412.70H527.90V427.40H512.65zM1122.65 442.10H1137.90V456.80H1122.65zM482.15 471.50H497.40V486.20H482.15zM390.65 530.30H405.90V545.00H390.65zM314.40 559.70H329.65V574.40H314.40zM329.65 574.40H344.90V589.10H329.65zM329.65 589.10H344.90V603.80H329.65zM329.65 603.80H344.90V618.50H329.65zM329.65 618.50H344.90V633.20H329.65zM329.65 633.20H344.90V647.90H329.65zM329.65 647.90H344.90V662.60H329.65zM329.65 662.60H344.90V677.30H329.65zM329.65 677.30H344.90V692.00H329.65zM329.65 692.00H344.90V706.70H329.65zM329.65 706.70H344.90V721.40H329.65zM329.65 721.40H344.90V736.10H329.65zM329.65 736.10H344.90V750.80H329.65zM329.65 750.80H344.90V765.50H329.65zM329.65 765.50H344.90V780.20H329.65zM329.65 780.20H344.90V794.90H329.65zM1198.90 780.20H1214.15V794.90H1198.90zM329.65 794.90H344.90V809.60H329.65z"/>
<path fill="#5afa3a" d="M832.90 324.50H909.15V339.20H832.90zM1015.90 324.50H1031.15V339.20H1015.90zM1305.65 353.90H1320.90V368.60H1305.65z"/>
<path fill="#fc329e" d="M604.15 339.20H619.40V353.90H604.15zM680.40 353.90H695.65V368.60H680.40zM756.65 353.90H771.90V368.60H756.65zM832.90 368.60H848.15V383.30H832.90zM878.65 383.30H893.90V398.00H878.65zM314.40 398.00H329.65V412.70H314.40zM543.15 398.00H558.40V412.70H543.15zM1015.90 412.70H1031.15V427.40H1015.90zM527.90 427.40H543.15V442.10H527.90zM1122.65 456.80H1137.90V471.50H1122.65zM1153.15 471.50H1168.40V486.20H1153.15zM497.40 486.20H512.65V500.90H497.40zM1168.40 486.20H1183.65V500.90H1168.40zM482.15 500.90H497.40V515.60H482.15zM451.65 530.30H466.90V545.00H451.65zM436.40 545.00H451.65V559.70H436.40zM421.15 574.40H436.40V589.10H421.15zM421.15 589.10H436.40V603.80H421.15zM421.15 603.80H436.40V618.50H421.15zM421.15 618.50H436.40V633.20H421.15zM421.15 633.20H436.40V647.90H421.15zM421.15 647.90H436.40V662.60H421.15zM421.15 662.60H436.40V677.30H421.15zM421.15 677.30H436.40V692.00H421.15zM421.15 692.00H436.40V706.70H421.15zM421.15 706.70H436.40V721.40H421.15zM421.15 721.40H436.40V736.10H421.15zM421.15 736.10H436.40V750.80H421.15zM421.15 750.80H436.40V765.50H421.15zM421.15 765.50H436.40V780.20H421.15zM421.15 780.20H436.40V794.90H421.15zM1153.15 780.20H1168.40V794.90H1153.15zM421.15 794.90H436.40V809.60H421.15z"/>
<path fill="#fc3294" d="M634.65 339.20H649.90V353.90H634.65zM573.65 368.60H588.90V383.30H573.65zM558.40 383.30H573.65V398.00H558.40zM970.15 398.00H985.40V412.70H970.15zM1061.65 427.40H1076.90V442.10H1061.65zM512.65 442.10H527.90V456.80H512.65zM421.15 559.70H436.40V574.40H421.15zM1168.40 780.20H1183.65V794.90H1168.40z"/>
<path fill="#fc3275" d="M649.90 339.20H665.15V353.90H649.90zM771.90 353.90H787.15V368.60H771.90zM299.15 383.30H314.40V398.00H299.15zM299.15 398.00H314.40V412.70H299.15zM314.40 412.70H329.65V427.40H314.40zM527.90 412.70H543.15V427.40H527.90zM497.40 471.50H512.65V486.20H497.40zM1168.40 471.50H1183.65V486.20H1168.40zM436.40 530.30H451.65V545.00H436.40zM390.65 559.70H405.90V574.40H390.65zM390.65 574.40H405.90V589.10H390.65zM390.65 589.10H405.90V603.80H390.65zM390.65 603.80H405.90V618.50H390.65zM390.65 618.50H405.90V633.20H390.65zM390.65 633.20H405.90V647.90H390.65zM390.65 647.90H405.90V662.60H390.65zM390.65 662.60H405.90V677.30H390.65zM390.65 677.30H405.90V692.00H390.65zM390.65 692.00H405.90V706.70H390.65zM390.65 706.70H405.90V721.40H390.65zM390.65 721.40H405.90V736.10H390.65zM390.65 736.10H405.90V750.80H390.65zM390.65 750.80H405.90V765.50H390.65zM390.65 765.50H405.90V780.20H390.65zM390.65 780.20H405.90V794.90H390.65zM1183.65 780.20H1198.90V794.90H1183.65zM390.65 794.90H405.90V809.60H390.65zM1137.90 794.90H1153.15V809.60H1137.90z"/>
<path fill="#fc335f" d="M665.15 339.20H680.40V353.90H665.15zM695.65 339.20H741.40V353.90H695.65zM787.15 353.90H802.40V368.60H787.15zM283.90 398.00H299.15V412.70H283.90zM1183.65 471.50H1198.90V486.20H1183.65zM344.90 500.90H360.15V515.60H344.90zM360.15 515.60H375.40V530.30H360.15zM375.40 530.30H390.65V545.00H375.40zM405.90 530.30H421.15V545.00H405.90zM360.15 559.70H375.40V574.40H360.15z"/>
<path fill="#fc3458" d="M741.40 339.20H756.65V353.90H741.40zM283.90 383.30H299.15V398.00H283.90zM1198.90 500.90H1214.15V515.60H1198.90zM1198.90 515.60H1214.15V530.30H1198.90zM1198.90 530.30H1214.15V545.00H1198.90zM283.90 545.00H299.15V559.70H283.90zM1198.90 545.00H1214.15V559.70H1198.90zM344.90 559.70H360.15V574.40H344.90zM1198.90 559.70H1214.15V574.40H1198.90zM360.15 574.40H375.40V589.10H360.15zM1198.90 574.40H1214.15V589.10H1198.90zM360.15 589.10H375.40V603.80H360.15zM1198.90 589.10H1214.15V603.80H1198.90zM360.15 603.80H375.40V618.50H360.15zM1198.90 603.80H1214.15V618.50H1198.90zM360.15 618.50H375.40V633.20H360.15zM1198.90 618.50H1214.15V633.20H1198.90zM360.15 633.20H375.40V647.90H360.15zM1198.90 633.20H1214.15V647.90H1198.90zM360.15 647.90H375.40V662.60H360.15zM1198.90 647.90H1214.15V662.60H1198.90zM360.15 662.60H375.40V677.30H360.15zM1198.90 662.60H1214.15V677.30H1198.90zM360.15 677.30H375.40V692.00H360.15zM1198.90 677.30H1214.15V692.00H1198.90zM360.15 692.00H375.40V706.70H360.15zM1198.90 692.00H1214.15V706.70H1198.90zM360.15 706.70H375.40V721.40H360.15zM1198.90 706.70H1214.15V721.40H1198.90zM360.15 721.40H375.40V736.10H360.15zM1198.90 721.40H1214.15V736.10H1198.90zM360.15 736.10H375.40V750.80H360.15zM1198.90 736.10H1214.15V750.80H1198.90zM360.15 750.80H375.40V765.50H360.15zM1198.90 750.80H1214.15V765.50H1198.90zM360.15 765.50H375.40V780.20H360.15zM1198.90 765.50H1214.15V780.20H1198.90zM360.15 780.20H375.40V794.90H360.15zM360.15 794.90H375.40V809.60H360.15z"/>
<path fill="#fc3c3a" d="M756.65 339.20H771.90V353.90H756.65zM817.65 353.90H832.90V368.60H817.65zM283.90 368.60H299.15V383.30H283.90zM375.40 368.60H390.65V383.30H375.40zM375.40 383.30H390.65V398.00H375.40zM954.90 383.30H985.40V398.00H954.90zM268.65 398.00H283.90V412.70H268.65zM375.40 398.00H390.65V412.70H375.40zM512.65 398.00H527.90V412.70H512.65zM268.65 412.70H283.90V427.40H268.65zM360.15 412.70H375.40V427.40H360.15zM1061.65 412.70H1076.90V427.40H1061.65zM268.65 427.40H283.90V442.10H268.65zM344.90 427.40H360.15V442.10H344.90zM1092.15 427.40H1107.40V442.10H1092.15zM268.65 442.10H283.90V456.80H268.65zM344.90 442.10H360.15V456.80H344.90zM482.15 442.10H497.40V456.80H482.15zM1137.90 442.10H1153.15V456.80H1137.90zM268.65 456.80H283.90V471.50H268.65zM344.90 456.80H360.15V471.50H344.90zM482.15 456.80H497.40V471.50H482.15zM1168.40 456.80H1183.65V471.50H1168.40zM268.65 471.50H283.90V486.20H268.65zM344.90 471.50H360.15V486.20H344.90zM1198.90 471.50H1214.15V486.20H1198.90zM268.65 486.20H283.90V500.90H268.65zM466.90 486.20H482.15V500.90H466.90zM268.65 500.90H283.90V515.60H268.65zM451.65 500.90H466.90V515.60H451.65zM268.65 515.60H283.90V530.30H268.65zM405.90 515.60H436.40V530.30H405.90zM268.65 530.30H283.90V545.00H268.65zM268.65 545.00H283.90V559.70H268.65zM283.90 559.70H299.15V574.40H283.90zM1214.15 559.70H1229.40V574.40H1214.15zM299.15 574.40H314.40V589.10H299.15zM1214.15 574.40H1229.40V589.10H1214.15zM299.15 589.10H314.40V603.80H299.15zM1214.15 589.10H1229.40V603.80H1214.15zM299.15 603.80H314.40V618.50H299.15zM1214.15 603.80H1229.40V618.50H1214.15zM299.15 618.50H314.40V633.20H299.15zM1214.15 618.50H1229.40V633.20H1214.15zM299.15 633.20H314.40V647.90H299.15zM1214.15 633.20H1229.40V647.90H1214.15zM299.15 647.90H314.40V662.60H299.15zM1214.15 647.90H1229.40V662.60H1214.15zM299.15 662.60H314.40V677.30H299.15zM1214.15 662.60H1229.40V677.30H1214.15zM299.15 677.30H314.40V692.00H299.15zM1214.15 677.30H1229.40V692.00H1214.15zM299.15 692.00H314.40V706.70H299.15zM1214.15 692.00H1229.40V706.70H1214.15zM299.15 706.70H314.40V721.40H299.15zM1214.15 706.70H1229.40V721.40H1214.15zM299.15 721.40H314.40V736.10H299.15zM1214.15 721.40H1229.40V736.10H1214.15zM299.15 736.10H314.40V750.80H299.15zM1214.15 736.10H1229.40V750.80H1214.15zM299.15 750.80H314.40V765.50H299.15zM1214.15 750.80H1229.40V765.50H1214.15zM299.15 765.50H314.40V780.20H299.15zM1214.15 765.50H1229.40V780.20H1214.15zM299.15 780.20H314.40V794.90H299.15zM299.15 794.90H314.40V809.60H299.15z"/>
<path fill="#fb32b2" d="M649.90 353.90H665.15V368.60H649.90zM741.40 353.90H756.65V368.60H741.40zM817.65 368.60H832.90V383.30H817.65zM543.15 412.70H558.40V427.40H543.15zM1000.65 412.70H1015.90V427.40H1000.65zM1046.40 427.40H1061.65V442.10H1046.40zM512.65 471.50H527.90V486.20H512.65zM1153.15 486.20H1168.40V500.90H1153.15zM482.15 515.60H497.40V530.30H482.15zM1168.40 515.60H1183.65V530.30H1168.40zM466.90 530.30H482.15V545.00H466.90zM1168.40 530.30H1183.65V545.00H1168.40zM1168.40 545.00H1183.65V559.70H1168.40zM1168.40 559.70H1183.65V574.40H1168.40zM1168.40 574.40H1183.65V589.10H1168.40zM1168.40 589.10H1183.65V603.80H1168.40zM1168.40 603.80H1183.65V618.50H1168.40zM1168.40 618.50H1183.65V633.20H1168.40zM1168.40 633.20H1183.65V647.90H1168.40zM1168.40 647.90H1183.65V662.60H1168.40zM1168.40 662.60H1183.65V677.30H1168.40zM1168.40 677.30H1183.65V692.00H1168.40zM1168.40 692.00H1183.65V706.70H1168.40zM1168.40 706.70H1183.65V721.40H1168.40zM1168.40 721.40H1183.65V736.10H1168.40zM1168.40 736.10H1183.65V750.80H1168.40zM1168.40 750.80H1183.65V765.50H1168.40zM1168.40 765.50H1183.65V780.20H1168.40zM1107.40 794.90H1122.65V809.60H1107.40z"/>
<path fill="#fc3941" d="M802.40 353.90H817.65V368.60H802.40zM878.65 368.60H893.90V383.30H878.65zM527.90 383.30H543.15V398.00H527.90zM924.40 383.30H954.90V398.00H924.40zM497.40 427.40H512.65V442.10H497.40zM344.90 486.20H360.15V500.90H344.90zM360.15 500.90H375.40V515.60H360.15zM375.40 515.60H390.65V530.30H375.40zM436.40 515.60H451.65V530.30H436.40zM299.15 559.70H314.40V574.40H299.15zM314.40 574.40H329.65V589.10H314.40zM314.40 589.10H329.65V603.80H314.40zM314.40 603.80H329.65V618.50H314.40zM314.40 618.50H329.65V633.20H314.40zM314.40 633.20H329.65V647.90H314.40zM314.40 647.90H329.65V662.60H314.40zM314.40 662.60H329.65V677.30H314.40zM314.40 677.30H329.65V692.00H314.40zM314.40 692.00H329.65V706.70H314.40zM314.40 706.70H329.65V721.40H314.40zM314.40 721.40H329.65V736.10H314.40zM314.40 736.10H329.65V750.80H314.40zM314.40 750.80H329.65V765.50H314.40zM314.40 765.50H329.65V780.20H314.40zM314.40 780.20H329.65V794.90H314.40zM314.40 794.90H329.65V809.60H314.40zM1168.40 794.90H1183.65V809.60H1168.40z"/>
<path fill="#fc3450" d="M558.40 368.60H573.65V383.30H558.40zM344.90 412.70H360.15V427.40H344.90zM1198.90 486.20H1214.15V500.90H1198.90zM329.65 559.70H344.90V574.40H329.65zM344.90 574.40H360.15V589.10H344.90zM344.90 589.10H360.15V603.80H344.90zM344.90 603.80H360.15V618.50H344.90zM344.90 618.50H360.15V633.20H344.90zM344.90 633.20H360.15V647.90H344.90zM344.90 647.90H360.15V662.60H344.90zM344.90 662.60H360.15V677.30H344.90zM344.90 677.30H360.15V692.00H344.90zM344.90 692.00H360.15V706.70H344.90zM344.90 706.70H360.15V721.40H344.90zM344.90 721.40H360.15V736.10H344.90zM344.90 736.10H360.15V750.80H344.90zM344.90 750.80H360.15V765.50H344.90zM344.90 765.50H360.15V780.20H344.90zM344.90 780.20H360.15V794.90H344.90zM344.90 794.90H360.15V809.60H344.90zM1153.15 794.90H1168.40V809.60H1153.15z"/>
<path fill="#fa35d8" d="M604.15 368.60H726.15V383.30H604.15zM588.90 383.30H604.15V398.00H588.90zM848.15 383.30H863.40V398.00H848.15zM573.65 398.00H588.90V412.70H573.65zM558.40 412.70H573.65V427.40H558.40zM1015.90 427.40H1031.15V442.10H1015.90zM543.15 442.10H558.40V456.80H543.15zM1046.40 442.10H1061.65V456.80H1046.40zM1076.90 456.80H1092.15V471.50H1076.90zM527.90 471.50H543.15V486.20H527.90zM1107.40 471.50H1122.65V486.20H1107.40zM527.90 486.20H543.15V500.90H527.90zM1122.65 486.20H1137.90V500.90H1122.65zM1122.65 500.90H1137.90V515.60H1122.65zM1122.65 515.60H1153.15V530.30H1122.65zM497.40 530.30H512.65V545.00H497.40zM1122.65 530.30H1153.15V545.00H1122.65zM482.15 545.00H497.40V559.70H482.15zM1122.65 545.00H1153.15V559.70H1122.65zM1137.90 559.70H1153.15V574.40H1137.90zM451.65 574.40H466.90V589.10H451.65zM1137.90 574.40H1153.15V589.10H1137.90zM1122.65 589.10H1153.15V603.80H1122.65zM466.90 603.80H482.15V618.50H466.90zM1122.65 603.80H1153.15V618.50H1122.65zM466.90 618.50H497.40V633.20H466.90zM1122.65 618.50H1153.15V633.20H1122.65zM466.90 633.20H497.40V647.90H466.90zM1122.65 633.20H1153.15V647.90H1122.65zM466.90 647.90H512.65V662.60H466.90zM1122.65 647.90H1153.15V662.60H1122.65zM466.90 662.60H512.65V677.30H466.90zM1107.40 662.60H1153.15V677.30H1107.40zM466.90 677.30H527.90V692.00H466.90zM1107.40 677.30H1153.15V692.00H1107.40zM466.90 692.00H527.90V706.70H466.90zM1107.40 692.00H1153.15V706.70H1107.40zM466.90 706.70H543.15V721.40H466.90zM1092.15 706.70H1153.15V721.40H1092.15zM466.90 721.40H573.65V736.10H466.90zM1076.90 721.40H1153.15V736.10H1076.90zM466.90 736.10H588.90V750.80H466.90zM1061.65 736.10H1153.15V750.80H1061.65zM466.90 750.80H604.15V765.50H466.90zM1046.40 750.80H1153.15V765.50H1046.40zM466.90 765.50H604.15V780.20H466.90zM1031.15 765.50H1153.15V780.20H1031.15zM466.90 780.20H604.15V794.90H466.90zM1015.90 780.20H1076.90V794.90H1015.90zM466.90 794.90H604.15V809.60H466.90zM1000.65 794.90H1061.65V809.60H1000.65z"/>
<path fill="#fa43dc" d="M726.15 368.60H741.40V383.30H726.15zM604.15 383.30H649.90V398.00H604.15zM832.90 383.30H848.15V398.00H832.90zM588.90 398.00H604.15V412.70H588.90zM878.65 398.00H893.90V412.70H878.65zM573.65 412.70H588.90V427.40H573.65zM558.40 427.40H573.65V442.10H558.40zM543.15 456.80H558.40V471.50H543.15zM1107.40 486.20H1122.65V500.90H1107.40zM527.90 500.90H543.15V515.60H527.90zM1107.40 500.90H1122.65V515.60H1107.40zM512.65 515.60H527.90V530.30H512.65zM1107.40 515.60H1122.65V530.30H1107.40zM1107.40 530.30H1122.65V545.00H1107.40zM497.40 545.00H512.65V559.70H497.40zM1107.40 545.00H1122.65V559.70H1107.40zM466.90 559.70H482.15V574.40H466.90zM1122.65 559.70H1137.90V574.40H1122.65zM466.90 574.40H482.15V589.10H466.90zM1122.65 574.40H1137.90V589.10H1122.65zM466.90 589.10H497.40V603.80H466.90zM1107.40 589.10H1122.65V603.80H1107.40zM482.15 603.80H497.40V618.50H482.15zM1107.40 603.80H1122.65V618.50H1107.40zM497.40 618.50H512.65V633.20H497.40zM1107.40 618.50H1122.65V633.20H1107.40zM497.40 633.20H527.90V647.90H497.40zM1107.40 633.20H1122.65V647.90H1107.40zM512.65 647.90H527.90V662.60H512.65zM1107.40 647.90H1122.65V662.60H1107.40zM512.65 662.60H543.15V677.30H512.65zM1092.15 662.60H1107.40V677.30H1092.15zM527.90 677.30H543.15V692.00H527.90zM1092.15 677.30H1107.40V692.00H1092.15zM527.90 692.00H558.40V706.70H527.90zM1092.15 692.00H1107.40V706.70H1092.15zM543.15 706.70H558.40V721.40H543.15zM1076.90 706.70H1092.15V721.40H1076.90zM573.65 721.40H588.90V736.10H573.65zM1061.65 721.40H1076.90V736.10H1061.65zM588.90 736.10H604.15V750.80H588.90zM1046.40 736.10H1061.65V750.80H1046.40zM604.15 750.80H619.40V765.50H604.15zM1031.15 750.80H1046.40V765.50H1031.15zM1015.90 765.50H1031.15V780.20H1015.90zM604.15 780.20H619.40V794.90H604.15zM1000.65 780.20H1015.90V794.90H1000.65zM604.15 794.90H619.40V809.60H604.15zM985.40 794.90H1000.65V809.60H985.40z"/>
<path fill="#fc6ee6" d="M741.40 368.60H771.90V383.30H741.40zM665.15 383.30H680.40V398.00H665.15zM817.65 383.30H832.90V398.00H817.65zM848.15 398.00H863.40V412.70H848.15zM588.90 412.70H604.15V427.40H588.90zM573.65 427.40H588.90V442.10H573.65zM985.40 427.40H1000.65V442.10H985.40zM1076.90 471.50H1092.15V486.20H1076.90zM543.15 486.20H558.40V500.90H543.15zM1092.15 500.90H1107.40V515.60H1092.15zM527.90 515.60H543.15V530.30H527.90zM1092.15 515.60H1107.40V530.30H1092.15zM1092.15 530.30H1107.40V545.00H1092.15zM512.65 545.00H527.90V559.70H512.65zM1092.15 545.00H1107.40V559.70H1092.15zM512.65 574.40H527.90V589.10H512.65zM1092.15 574.40H1107.40V589.10H1092.15zM512.65 589.10H527.90V603.80H512.65zM1092.15 589.10H1107.40V603.80H1092.15zM527.90 603.80H543.15V618.50H527.90zM543.15 618.50H558.40V633.20H543.15zM1076.90 618.50H1092.15V633.20H1076.90zM543.15 633.20H558.40V647.90H543.15zM1076.90 633.20H1092.15V647.90H1076.90zM558.40 647.90H573.65V662.60H558.40zM1076.90 647.90H1092.15V662.60H1076.90zM558.40 662.60H573.65V677.30H558.40zM573.65 677.30H588.90V692.00H573.65zM573.65 692.00H588.90V706.70H573.65zM1061.65 692.00H1076.90V706.70H1061.65zM588.90 706.70H604.15V721.40H588.90zM1046.40 706.70H1061.65V721.40H1046.40zM619.40 721.40H634.65V736.10H619.40zM1031.15 721.40H1046.40V736.10H1031.15zM634.65 736.10H649.90V750.80H634.65zM1015.90 736.10H1031.15V750.80H1015.90zM1000.65 750.80H1015.90V765.50H1000.65zM634.65 765.50H680.40V780.20H634.65zM985.40 765.50H1000.65V780.20H985.40zM634.65 780.20H680.40V794.90H634.65zM970.15 780.20H985.40V794.90H970.15zM634.65 794.90H970.15V809.60H634.65z"/>
<path fill="#fb52df" d="M771.90 368.60H787.15V383.30H771.90zM649.90 383.30H665.15V398.00H649.90zM970.15 412.70H985.40V427.40H970.15zM1000.65 427.40H1015.90V442.10H1000.65zM1031.15 442.10H1046.40V456.80H1031.15zM482.15 559.70H497.40V574.40H482.15zM482.15 574.40H497.40V589.10H482.15zM497.40 603.80H512.65V618.50H497.40zM512.65 618.50H527.90V633.20H512.65zM527.90 647.90H543.15V662.60H527.90zM543.15 677.30H558.40V692.00H543.15zM558.40 706.70H573.65V721.40H558.40zM588.90 721.40H604.15V736.10H588.90zM604.15 736.10H619.40V750.80H604.15zM619.40 750.80H649.90V765.50H619.40zM604.15 765.50H619.40V780.20H604.15z"/>
<path fill="#fb33bc" d="M802.40 368.60H817.65V383.30H802.40zM573.65 383.30H588.90V398.00H573.65zM863.40 383.30H878.65V398.00H863.40zM924.40 398.00H939.65V412.70H924.40zM527.90 442.10H543.15V456.80H527.90zM1107.40 456.80H1122.65V471.50H1107.40zM1137.90 471.50H1153.15V486.20H1137.90zM512.65 486.20H527.90V500.90H512.65zM497.40 500.90H512.65V515.60H497.40zM1153.15 500.90H1168.40V515.60H1153.15zM451.65 545.00H466.90V559.70H451.65zM436.40 559.70H451.65V574.40H436.40zM436.40 574.40H451.65V589.10H436.40zM436.40 589.10H451.65V603.80H436.40zM436.40 603.80H451.65V618.50H436.40zM436.40 618.50H451.65V633.20H436.40zM436.40 633.20H451.65V647.90H436.40zM436.40 647.90H451.65V662.60H436.40zM436.40 662.60H451.65V677.30H436.40zM436.40 677.30H451.65V692.00H436.40zM436.40 692.00H451.65V706.70H436.40zM436.40 706.70H451.65V721.40H436.40zM436.40 721.40H451.65V736.10H436.40zM436.40 736.10H451.65V750.80H436.40zM436.40 750.80H451.65V765.50H436.40zM436.40 765.50H451.65V780.20H436.40zM436.40 780.20H451.65V794.90H436.40zM1137.90 780.20H1153.15V794.90H1137.90zM436.40 794.90H451.65V809.60H436.40zM1076.90 794.90H1107.40V809.60H1076.90z"/>
<path fill="#fc328a" d="M848.15 368.60H863.40V383.30H848.15zM344.90 398.00H360.15V412.70H344.90zM1137.90 456.80H1153.15V471.50H1137.90z"/>
<path fill="#fa34c5" d="M329.65 383.30H344.90V398.00H329.65zM558.40 398.00H573.65V412.70H558.40zM909.15 398.00H924.40V412.70H909.15zM1122.65 780.20H1137.90V794.90H1122.65z"/>
<path fill="#fc77e8" d="M680.40 383.30H726.15V398.00H680.40zM787.15 383.30H817.65V398.00H787.15zM619.40 398.00H634.65V412.70H619.40zM939.65 412.70H954.90V427.40H939.65zM1015.90 442.10H1031.15V456.80H1015.90zM558.40 456.80H573.65V471.50H558.40zM1046.40 456.80H1061.65V471.50H1046.40zM1061.65 471.50H1076.90V486.20H1061.65zM1076.90 486.20H1092.15V500.90H1076.90zM543.15 500.90H558.40V515.60H543.15zM527.90 530.30H543.15V545.00H527.90zM512.65 559.70H527.90V574.40H512.65zM1092.15 559.70H1107.40V574.40H1092.15zM527.90 574.40H543.15V589.10H527.90zM527.90 589.10H543.15V603.80H527.90zM1076.90 589.10H1092.15V603.80H1076.90zM543.15 603.80H558.40V618.50H543.15zM1076.90 603.80H1092.15V618.50H1076.90zM558.40 618.50H573.65V633.20H558.40zM1061.65 618.50H1076.90V633.20H1061.65zM558.40 633.20H573.65V647.90H558.40zM1061.65 633.20H1076.90V647.90H1061.65zM573.65 647.90H588.90V662.60H573.65zM1061.65 647.90H1076.90V662.60H1061.65zM573.65 662.60H588.90V677.30H573.65zM1061.65 662.60H1076.90V677.30H1061.65zM588.90 677.30H604.15V692.00H588.90zM1061.65 677.30H1076.90V692.00H1061.65zM588.90 692.00H604.15V706.70H588.90zM1046.40 692.00H1061.65V706.70H1046.40zM604.15 706.70H619.40V721.40H604.15zM1031.15 706.70H1046.40V721.40H1031.15zM1015.90 721.40H1031.15V736.10H1015.90zM649.90 736.10H665.15V750.80H649.90zM1000.65 736.10H1015.90V750.80H1000.65zM665.15 750.80H680.40V765.50H665.15zM985.40 750.80H1000.65V765.50H985.40zM970.15 765.50H985.40V780.20H970.15zM680.40 780.20H970.15V794.90H680.40z"/>
<path fill="#fe91f0" d="M726.15 383.30H741.40V398.00H726.15zM771.90 383.30H787.15V398.00H771.90zM649.90 398.00H665.15V412.70H649.90zM893.90 412.70H909.15V427.40H893.90zM588.90 427.40H604.15V442.10H588.90zM954.90 427.40H970.15V442.10H954.90zM1000.65 442.10H1015.90V456.80H1000.65zM1031.15 456.80H1046.40V471.50H1031.15zM1046.40 471.50H1061.65V486.20H1046.40zM558.40 486.20H573.65V500.90H558.40zM1061.65 486.20H1076.90V500.90H1061.65zM1076.90 500.90H1092.15V515.60H1076.90zM1076.90 515.60H1092.15V530.30H1076.90zM543.15 530.30H558.40V545.00H543.15zM1076.90 530.30H1092.15V545.00H1076.90zM1076.90 545.00H1092.15V559.70H1076.90zM543.15 559.70H558.40V574.40H543.15zM1076.90 559.70H1092.15V574.40H1076.90zM1076.90 574.40H1092.15V589.10H1076.90zM558.40 589.10H573.65V603.80H558.40zM1061.65 603.80H1076.90V618.50H1061.65zM588.90 633.20H604.15V647.90H588.90zM1046.40 633.20H1061.65V647.90H1046.40zM1046.40 647.90H1061.65V662.60H1046.40zM604.15 662.60H619.40V677.30H604.15zM619.40 692.00H634.65V706.70H619.40zM695.65 750.80H710.90V765.50H695.65zM726.15 765.50H741.40V780.20H726.15zM832.90 765.50H954.90V780.20H832.90z"/>
<path fill="#ffaaf8" d="M741.40 383.30H771.90V398.00H741.40zM665.15 398.00H680.40V412.70H665.15zM817.65 398.00H832.90V412.70H817.65zM878.65 412.70H893.90V427.40H878.65zM939.65 427.40H954.90V442.10H939.65zM985.40 442.10H1000.65V456.80H985.40zM1015.90 456.80H1031.15V471.50H1015.90zM756.65 765.50H771.90V780.20H756.65zM787.15 765.50H817.65V780.20H787.15z"/>
<path fill="#fc60e2" d="M604.15 398.00H619.40V412.70H604.15zM863.40 398.00H878.65V412.70H863.40zM954.90 412.70H970.15V427.40H954.90zM558.40 442.10H573.65V456.80H558.40zM1061.65 456.80H1076.90V471.50H1061.65zM543.15 471.50H558.40V486.20H543.15zM1092.15 471.50H1107.40V486.20H1092.15zM1092.15 486.20H1107.40V500.90H1092.15zM512.65 530.30H527.90V545.00H512.65zM497.40 559.70H512.65V574.40H497.40zM1107.40 559.70H1122.65V574.40H1107.40zM497.40 574.40H512.65V589.10H497.40zM1107.40 574.40H1122.65V589.10H1107.40zM497.40 589.10H512.65V603.80H497.40zM512.65 603.80H527.90V618.50H512.65zM1092.15 603.80H1107.40V618.50H1092.15zM527.90 618.50H543.15V633.20H527.90zM1092.15 618.50H1107.40V633.20H1092.15zM527.90 633.20H543.15V647.90H527.90zM1092.15 633.20H1107.40V647.90H1092.15zM543.15 647.90H558.40V662.60H543.15zM1092.15 647.90H1107.40V662.60H1092.15zM543.15 662.60H558.40V677.30H543.15zM1076.90 662.60H1092.15V677.30H1076.90zM558.40 677.30H573.65V692.00H558.40zM1076.90 677.30H1092.15V692.00H1076.90zM558.40 692.00H573.65V706.70H558.40zM1076.90 692.00H1092.15V706.70H1076.90zM573.65 706.70H588.90V721.40H573.65zM1061.65 706.70H1076.90V721.40H1061.65zM604.15 721.40H619.40V736.10H604.15zM1046.40 721.40H1061.65V736.10H1046.40zM619.40 736.10H634.65V750.80H619.40zM1031.15 736.10H1046.40V750.80H1031.15zM649.90 750.80H665.15V765.50H649.90zM1015.90 750.80H1031.15V765.50H1015.90zM619.40 765.50H634.65V780.20H619.40zM1000.65 765.50H1015.90V780.20H1000.65zM619.40 780.20H634.65V794.90H619.40zM985.40 780.20H1000.65V794.90H985.40zM619.40 794.90H634.65V809.60H619.40zM970.15 794.90H985.40V809.60H970.15z"/>
<path fill="#fe88ee" d="M634.65 398.00H649.90V412.70H634.65zM604.15 412.70H619.40V427.40H604.15zM909.15 412.70H939.65V427.40H909.15zM573.65 442.10H588.90V456.80H573.65zM558.40 471.50H573.65V486.20H558.40zM543.15 515.60H558.40V530.30H543.15zM527.90 545.00H543.15V559.70H527.90zM543.15 574.40H558.40V589.10H543.15zM558.40 603.80H573.65V618.50H558.40zM573.65 618.50H588.90V633.20H573.65zM588.90 647.90H604.15V662.60H588.90zM1046.40 662.60H1061.65V677.30H1046.40zM604.15 677.30H619.40V692.00H604.15zM1046.40 677.30H1061.65V692.00H1046.40zM1031.15 692.00H1046.40V706.70H1031.15zM619.40 706.70H634.65V721.40H619.40zM1015.90 706.70H1031.15V721.40H1015.90zM649.90 721.40H665.15V736.10H649.90zM1000.65 721.40H1015.90V736.10H1000.65zM665.15 736.10H680.40V750.80H665.15zM985.40 736.10H1000.65V750.80H985.40zM970.15 750.80H985.40V765.50H970.15zM695.65 765.50H726.15V780.20H695.65zM954.90 765.50H970.15V780.20H954.90z"/>
<path fill="#ffb2fa" d="M680.40 398.00H817.65V412.70H680.40zM634.65 412.70H878.65V427.40H634.65zM604.15 427.40H939.65V442.10H604.15zM588.90 442.10H985.40V456.80H588.90zM588.90 456.80H1015.90V471.50H588.90zM573.65 471.50H1046.40V486.20H573.65zM573.65 486.20H1061.65V500.90H573.65zM573.65 500.90H1076.90V515.60H573.65zM558.40 515.60H1076.90V530.30H558.40zM558.40 530.30H1076.90V545.00H558.40zM558.40 545.00H1076.90V559.70H558.40zM558.40 559.70H1076.90V574.40H558.40zM573.65 574.40H1076.90V589.10H573.65zM573.65 589.10H1061.65V603.80H573.65zM588.90 603.80H1061.65V618.50H588.90zM604.15 618.50H1046.40V633.20H604.15zM604.15 633.20H1046.40V647.90H604.15zM619.40 647.90H1046.40V662.60H619.40zM619.40 662.60H1031.15V677.30H619.40zM634.65 677.30H1031.15V692.00H634.65zM634.65 692.00H1015.90V706.70H634.65zM649.90 706.70H1000.65V721.40H649.90zM680.40 721.40H985.40V736.10H680.40zM695.65 736.10H970.15V750.80H695.65zM726.15 750.80H954.90V765.50H726.15z"/>
<path fill="#fd80eb" d="M832.90 398.00H848.15V412.70H832.90zM970.15 427.40H985.40V442.10H970.15zM527.90 559.70H543.15V574.40H527.90zM543.15 589.10H558.40V603.80H543.15zM573.65 633.20H588.90V647.90H573.65zM588.90 662.60H604.15V677.30H588.90zM604.15 692.00H619.40V706.70H604.15zM634.65 721.40H649.90V736.10H634.65zM680.40 750.80H695.65V765.50H680.40zM680.40 765.50H695.65V780.20H680.40z"/>
<path fill="#fe99f2" d="M619.40 412.70H634.65V427.40H619.40zM573.65 456.80H588.90V471.50H573.65zM558.40 500.90H573.65V515.60H558.40zM543.15 545.00H558.40V559.70H543.15zM558.40 574.40H573.65V589.10H558.40zM1061.65 589.10H1076.90V603.80H1061.65zM573.65 603.80H588.90V618.50H573.65zM588.90 618.50H604.15V633.20H588.90zM1046.40 618.50H1061.65V633.20H1046.40zM604.15 647.90H619.40V662.60H604.15zM619.40 677.30H634.65V692.00H619.40zM1031.15 677.30H1046.40V692.00H1031.15zM1015.90 692.00H1031.15V706.70H1015.90zM634.65 706.70H649.90V721.40H634.65zM1000.65 706.70H1015.90V721.40H1000.65zM665.15 721.40H680.40V736.10H665.15zM985.40 721.40H1000.65V736.10H985.40zM680.40 736.10H695.65V750.80H680.40zM970.15 736.10H985.40V750.80H970.15zM710.90 750.80H726.15V765.50H710.90zM954.90 750.80H970.15V765.50H954.90zM741.40 765.50H756.65V780.20H741.40zM817.65 765.50H832.90V780.20H817.65z"/>
<path fill="#fc3283" d="M1031.15 412.70H1046.40V427.40H1031.15zM1183.65 500.90H1198.90V515.60H1183.65zM1183.65 515.60H1198.90V530.30H1183.65zM1183.65 530.30H1198.90V545.00H1183.65zM1183.65 545.00H1198.90V559.70H1183.65zM1183.65 559.70H1198.90V574.40H1183.65zM405.90 574.40H421.15V589.10H405.90zM1183.65 574.40H1198.90V589.10H1183.65zM405.90 589.10H421.15V603.80H405.90zM1183.65 589.10H1198.90V603.80H1183.65zM405.90 603.80H421.15V618.50H405.90zM1183.65 603.80H1198.90V618.50H1183.65zM405.90 618.50H421.15V633.20H405.90zM1183.65 618.50H1198.90V633.20H1183.65zM405.90 633.20H421.15V647.90H405.90zM1183.65 633.20H1198.90V647.90H1183.65zM405.90 647.90H421.15V662.60H405.90zM1183.65 647.90H1198.90V662.60H1183.65zM405.90 662.60H421.15V677.30H405.90zM1183.65 662.60H1198.90V677.30H1183.65zM405.90 677.30H421.15V692.00H405.90zM1183.65 677.30H1198.90V692.00H1183.65zM405.90 692.00H421.15V706.70H405.90zM1183.65 692.00H1198.90V706.70H1183.65zM405.90 706.70H421.15V721.40H405.90zM1183.65 706.70H1198.90V721.40H1183.65zM405.90 721.40H421.15V736.10H405.90zM1183.65 721.40H1198.90V736.10H1183.65zM405.90 736.10H421.15V750.80H405.90zM1183.65 736.10H1198.90V750.80H1183.65zM405.90 750.80H421.15V765.50H405.90zM1183.65 750.80H1198.90V765.50H1183.65zM405.90 765.50H421.15V780.20H405.90zM1183.65 765.50H1198.90V780.20H1183.65zM405.90 780.20H421.15V794.90H405.90zM405.90 794.90H421.15V809.60H405.90zM1122.65 794.90H1137.90V809.60H1122.65z"/>
<path fill="#fc327c" d="M1092.15 442.10H1107.40V456.80H1092.15zM1183.65 486.20H1198.90V500.90H1183.65zM466.90 515.60H482.15V530.30H466.90zM421.15 545.00H436.40V559.70H421.15zM405.90 559.70H421.15V574.40H405.90z"/>
<path fill="#fea2f5" d="M1031.15 662.60H1046.40V677.30H1031.15zM771.90 765.50H787.15V780.20H771.90z"/>
</g>
<path d="M268.65 265.7V811.0M283.90 265.7V811.0M299.15 265.7V811.0M314.40 265.7V811.0M329.65 265.7V811.0M344.90 265.7V811.0M360.15 265.7V811.0M375.40 265.7V811.0M390.65 265.7V811.0M405.90 265.7V811.0M421.15 265.7V811.0M436.40 265.7V811.0M451.65 265.7V811.0M466.90 265.7V811.0M482.15 265.7V811.0M497.40 265.7V811.0M512.65 265.7V811.0M527.90 265.7V811.0M543.15 265.7V811.0M558.40 265.7V811.0M573.65 265.7V811.0M588.90 265.7V811.0M604.15 265.7V811.0M619.40 265.7V811.0M634.65 265.7V811.0M649.90 265.7V811.0M665.15 265.7V811.0M680.40 265.7V811.0M695.65 265.7V811.0M710.90 265.7V811.0M726.15 265.7V811.0M741.40 265.7V811.0M756.65 265.7V811.0M771.90 265.7V811.0M787.15 265.7V811.0M802.40 265.7V811.0M817.65 265.7V811.0M832.90 265.7V811.0M848.15 265.7V811.0M863.40 265.7V811.0M878.65 265.7V811.0M893.90 265.7V811.0M909.15 265.7V811.0M924.40 265.7V811.0M939.65 265.7V811.0M954.90 265.7V811.0M970.15 265.7V811.0M985.40 265.7V811.0M1000.65 265.7V811.0M1015.90 265.7V811.0M1031.15 265.7V811.0M1046.40 265.7V811.0M1061.65 265.7V811.0M1076.90 265.7V811.0M1092.15 265.7V811.0M1107.40 265.7V811.0M1122.65 265.7V811.0M1137.90 265.7V811.0M1153.15 265.7V811.0M1168.40 265.7V811.0M1183.65 265.7V811.0M1198.90 265.7V811.0M1214.15 265.7V811.0M1229.40 265.7V811.0M1244.65 265.7V811.0M1259.90 265.7V811.0M1275.15 265.7V811.0M1290.40 265.7V811.0M1305.65 265.7V811.0M1320.90 265.7V811.0M266.0 265.70H1327.0M266.0 280.40H1327.0M266.0 295.10H1327.0M266.0 309.80H1327.0M266.0 324.50H1327.0M266.0 339.20H1327.0M266.0 353.90H1327.0M266.0 368.60H1327.0M266.0 383.30H1327.0M266.0 398.00H1327.0M266.0 412.70H1327.0M266.0 427.40H1327.0M266.0 442.10H1327.0M266.0 456.80H1327.0M266.0 471.50H1327.0M266.0 486.20H1327.0M266.0 500.90H1327.0M266.0 515.60H1327.0M266.0 530.30H1327.0M266.0 545.00H1327.0M266.0 559.70H1327.0M266.0 574.40H1327.0M266.0 589.10H1327.0M266.0 603.80H1327.0M266.0 618.50H1327.0M266.0 633.20H1327.0M266.0 647.90H1327.0M266.0 662.60H1327.0M266.0 677.30H1327.0M266.0 692.00H1327.0M266.0 706.70H1327.0M266.0 721.40H1327.0M266.0 736.10H1327.0M266.0 750.80H1327.0M266.0 765.50H1327.0M266.0 780.20H1327.0M266.0 794.90H1327.0M266.0 809.60H1327.0" stroke="#fff" stroke-opacity="0.16" stroke-width="1" fill="none"/>
<path fill="#fff" shape-rendering="crispEdges" d="M268.65 265.70H1061.65V280.40H268.65zM268.65 280.40H527.90V295.10H268.65zM970.15 280.40H1046.40V295.10H970.15zM405.90 295.10H421.15V309.80H405.90z"/>
<rect x="399.04" y="294.60" width="7.62" height="15.20" fill="#fff"/>
<path d="M266.0 155.1H316.5M1277 155.1H1327.0M266.0 272.4H316.5M1277 272.4H1327.0M266.0 390.7H316.5M1277 390.7H1327.0M266.0 508.2H316.5M1277 499.1H1327.0M266.0 626.3H316.5M1277 626.3H1327.0M266.0 743.9H316.5M1277 743.9H1327.0M501.4 0V50.5M737.8 0V50.5M981.8 0V50.5M1209.6 0V50.5M501.4 761V811.0M737.4 761V811.0M973.4 761V811.0M1209.4 761V811.0" stroke="#000" stroke-width="1.6" fill="none"/>
<text x="272.2" y="148.8" font-size="13.7" class="b h">1,000 m</text>
<text x="272.2" y="265.1" font-size="13.7" class="b h">800 m</text>
<text x="272.2" y="383.4" font-size="13.7" class="b h">600 m</text>
<text x="272.2" y="503.0" font-size="13.7" class="b h">400 m</text>
<text x="272.2" y="621.3" font-size="13.7" class="b h">200 m</text>
<text transform="translate(519.7 720.4) rotate(90)" font-size="13.85" class="b h">483,017 mE</text>
<text transform="translate(504.6 720.5) rotate(90)" font-size="13.85" class="b h">6,859,320 mN</text>
<text transform="translate(755.7 720.4) rotate(90)" font-size="13.85" class="b h">482,914 mE</text>
<text transform="translate(740.6 720.5) rotate(90)" font-size="13.85" class="b h">6,859,707 mN</text>
<text transform="translate(991.7 720.4) rotate(90)" font-size="13.85" class="b h">482,810 mE</text>
<text transform="translate(976.6 720.5) rotate(90)" font-size="13.85" class="b h">6,860,093 mN</text>
<polyline fill="none" stroke="#000" stroke-width="3.4" stroke-linejoin="round" points="265.5,296.8 283.6,291.4 290.4,288.9 304,285.5 320.9,285.2 343,285.5 353.1,288.1 366.7,292.3 380.3,298.2 387,299.9 400.6,299.4 410.8,300.4 424.3,299.1 441.3,297.7 454.8,294.8 466.7,292.3 478.6,288.9 492.1,285.5 502.3,283.8 509.1,278.7 519.2,277 531.1,275 535,275.5 543.5,275.8 551.9,272.5 567.2,272.1 574,270.4 587.5,269.6 606.2,268.4 616.4,270.1 623.1,273 635,272.5 643.5,274.7 653.6,276.4 665.5,274.7 675.7,276.4 684.2,277.2 696,275.5 704.5,272.1 714.7,267 721.4,265 728.2,265.3 733.3,267 743.5,266.7 755.3,267.4 768.9,267 779.1,265 785.8,265.3 796,267.9 805,271.3 816.9,270.1 832.1,270.4 847.4,270.8 860.9,270.4 876.2,272.5 886.4,271.8 899.9,274.2 906.7,275.5 921.9,278.9 933.8,280.6 944,280.3 957.5,282.6 967.7,284 983,284.8 998.2,284.8 1013.5,287.4 1030.4,288.7 1042.3,286.5 1049.1,281.4 1055.8,278.1 1062.6,273 1066,270 1070.1,267.2 1078.6,265.5 1092.1,265.2 1105.7,263.8 1114.2,264.7 1124.3,267.2 1136.2,268.6 1153.1,267.5 1170.1,268.6 1183.6,268.1 1200.6,266.4 1214.2,265.2 1222.6,263.5 1234.5,264.2 1246,264.7 1251.4,265.5 1256.5,267.2 1261.6,264.7 1276.9,263.5 1293.8,262.1 1310.8,261.6 1319.2,262.5 1327,262.5"/>
<path fill="#f6a21e" stroke="#f6a21e" stroke-width="0.35" d="M816.0 289.0L844.2 301.9L843.7 303.0L815.5 290.1zM815.5 290.1L845.5 303.8L845.0 304.9L815.0 291.2zM815.0 291.2L844.9 304.9L844.4 306.0L814.5 292.3zM814.5 292.3L843.1 305.4L842.6 306.5L814.0 293.4zM814.0 293.4L843.2 306.8L842.7 307.9L813.4 294.5zM813.4 294.5L842.6 307.8L842.1 308.9L812.9 295.6zM812.9 295.6L842.6 309.2L842.1 310.3L812.4 296.7zM812.4 296.7L842.5 310.4L842.0 311.5L811.9 297.8zM811.9 297.8L840.1 310.7L839.6 311.8L811.4 298.9zM811.4 298.9L839.4 311.7L838.9 312.8L810.9 300.0zM810.9 300.0L840.9 313.7L840.4 314.8L810.4 301.1zM810.4 301.1L839.5 314.4L839.0 315.5L809.9 302.2zM809.9 302.2L839.9 315.9L839.4 317.0L809.4 303.3zM809.4 303.3L837.3 316.1L836.8 317.2L808.9 304.4zM808.9 304.4L838.0 317.7L837.5 318.8L808.4 305.5zM808.4 305.5L838.3 319.2L837.8 320.3L807.9 306.6zM807.9 306.6L836.4 319.6L835.9 320.7L807.4 307.7zM807.4 307.7L837.4 321.4L836.9 322.5L806.9 308.8zM806.9 308.8L836.9 322.5L836.4 323.6L806.4 309.9zM806.4 309.9L834.4 322.7L833.9 323.8L805.9 311.0zM805.9 311.0L833.9 323.8L833.4 324.9L805.4 312.1zM805.4 312.1L834.8 325.5L834.3 326.6L804.9 313.2zM804.9 313.2L815.7 318.1L815.2 319.2L804.4 314.3zM804.4 314.3L805.0 314.6L804.5 315.7L803.9 315.4zM803.9 315.4L804.5 315.7L803.9 316.8L803.4 316.5zM803.4 316.5L804.2 316.8L803.6 317.9L802.9 317.6zM802.9 317.6L803.5 317.9L803.0 319.0L802.4 318.7zM802.4 318.7L803.0 319.0L802.5 320.1L801.9 319.8zM801.9 319.8L802.9 320.3L802.4 321.4L801.4 320.9zM801.4 320.9L802.3 321.3L801.8 322.4L800.9 322.0zM800.9 322.0L801.7 322.4L801.2 323.5L800.4 323.1zM800.4 323.1L801.4 323.6L800.9 324.7L799.9 324.2zM799.9 324.2L800.5 324.5L800.0 325.6L799.4 325.3zM799.4 325.3L800.3 325.7L799.8 326.8L798.9 326.4zM798.9 326.4L799.9 326.9L799.4 328.0L798.4 327.5zM798.4 327.5L799.3 327.9L798.8 329.0L797.9 328.6zM797.9 328.6L798.6 328.9L798.0 330.0L797.4 329.7zM797.4 329.7L798.3 330.2L797.8 331.3L796.8 330.8zM796.8 330.8L797.6 331.2L797.1 332.3L796.3 331.9zM796.3 331.9L796.9 332.2L796.4 333.3L795.8 333.0zM795.8 333.0L796.8 333.4L796.3 334.5L795.3 334.1zM795.3 334.1L796.0 334.4L795.5 335.5L794.8 335.2zM794.8 335.2L795.7 335.6L795.2 336.7L794.3 336.3zM794.3 336.3L795.1 336.6L794.6 337.7L793.8 337.4zM793.8 337.4L794.6 337.8L794.1 338.9L793.3 338.5zM793.3 338.5L794.1 338.9L793.6 340.0L792.8 339.6zM792.8 339.6L794.0 340.1L793.5 341.2L792.3 340.7zM792.3 340.7L792.9 341.0L792.4 342.1L791.8 341.8zM791.8 341.8L792.9 342.3L792.4 343.4L791.3 342.9zM791.3 342.9L792.1 343.2L791.6 344.3L790.8 344.0zM790.8 344.0L791.6 344.4L791.1 345.5L790.3 345.1zM790.3 345.1L791.2 345.5L790.7 346.6L789.8 346.2zM789.8 346.2L790.8 346.6L790.3 347.7L789.3 347.3zM789.3 347.3L790.1 347.7L789.6 348.8L788.8 348.4zM788.8 348.4L789.6 348.8L789.1 349.9L788.3 349.5zM788.3 349.5L789.0 349.8L788.5 350.9L787.8 350.6zM787.8 350.6L789.3 351.3L788.8 352.4L787.3 351.7zM787.3 351.7L788.2 352.1L787.7 353.2L786.8 352.8zM786.8 352.8L792.9 355.6L792.4 356.7L786.3 353.9zM786.3 353.9L799.0 359.7L798.5 360.8L785.8 355.0zM785.8 355.0L797.9 360.5L797.4 361.6L785.3 356.1zM785.3 356.1L794.1 360.1L793.6 361.2L784.8 357.2zM784.8 357.2L809.0 368.3L808.5 369.4L784.3 358.3zM784.3 358.3L808.1 369.2L807.6 370.3L783.8 359.4zM783.8 359.4L798.1 366.0L797.6 367.1L783.3 360.5zM783.3 360.5L798.5 367.5L798.0 368.6L782.8 361.6zM782.8 361.6L792.7 366.1L792.2 367.2L782.3 362.7zM782.3 362.7L809.2 375.0L808.7 376.1L781.8 363.8zM781.8 363.8L808.5 376.0L808.0 377.1L781.3 364.9zM781.3 364.9L792.7 370.1L792.2 371.2L780.7 366.0zM780.7 366.0L802.2 375.8L801.7 376.9L780.2 367.1zM780.2 367.1L803.3 377.6L802.8 378.7L779.7 368.2zM779.7 368.2L790.7 373.2L790.2 374.3L779.2 369.3zM779.2 369.3L793.1 375.6L792.6 376.7L778.7 370.4zM778.7 370.4L786.6 374.0L786.1 375.1L778.2 371.5zM778.2 371.5L783.9 374.1L783.4 375.2L777.7 372.6zM777.7 372.6L780.5 373.8L780.0 374.9L777.2 373.7zM777.2 373.7L780.3 375.1L779.8 376.2L776.7 374.8zM776.7 374.8L781.3 376.9L780.8 378.0L776.2 375.9zM776.2 375.9L779.2 377.3L778.7 378.4L775.7 377.0zM775.7 377.0L778.3 378.2L777.8 379.3L775.2 378.1zM775.2 378.1L779.2 379.9L778.7 381.0L774.7 379.2zM774.7 379.2L777.3 380.4L776.8 381.5L774.2 380.3zM774.2 380.3L779.7 382.8L779.2 383.9L773.7 381.4zM773.7 381.4L775.9 382.4L775.4 383.5L773.2 382.5zM773.2 382.5L776.8 384.2L776.3 385.3L772.7 383.6zM772.7 383.6L776.3 385.2L775.8 386.3L772.2 384.7zM772.2 384.7L775.5 386.2L775.0 387.3L771.7 385.8zM771.7 385.8L775.8 387.7L775.3 388.8L771.2 386.9zM771.2 386.9L774.4 388.4L773.9 389.5L770.7 388.0zM770.7 388.0L774.2 389.6L773.7 390.7L770.2 389.1zM770.2 389.1L773.5 390.6L773.0 391.7L769.7 390.2zM769.7 390.2L774.7 392.5L774.2 393.6L769.2 391.3zM769.2 391.3L772.0 392.6L771.5 393.7L768.7 392.4zM768.7 392.4L772.7 394.3L772.2 395.4L768.2 393.5zM768.2 393.5L772.6 395.5L772.1 396.6L767.7 394.6zM767.7 394.6L772.6 396.9L772.1 398.0L767.2 395.7zM767.2 395.7L771.0 397.4L770.5 398.5L766.7 396.8zM766.7 396.8L769.5 398.1L769.0 399.2L766.2 397.9zM766.2 397.9L769.1 399.3L768.6 400.4L765.7 399.0zM765.7 399.0L771.2 401.5L770.7 402.6L765.2 400.1zM765.2 400.1L768.7 401.5L768.3 402.6L764.7 401.2zM764.7 401.2L770.7 403.5L770.2 404.6L764.3 402.3zM764.3 402.3L769.0 404.2L768.5 405.3L763.9 403.4zM763.9 403.4L768.2 405.1L767.7 406.2L763.4 404.5zM763.4 404.5L768.8 406.6L768.4 407.7L763.0 405.6zM763.0 405.6L766.9 407.1L766.5 408.2L762.6 406.7zM762.6 406.7L767.8 408.8L767.3 409.9L762.1 407.8zM762.1 407.8L766.7 409.6L766.3 410.7L761.7 408.9zM761.7 408.9L789.4 419.8L788.9 420.9L761.2 410.0zM761.2 410.0L791.9 422.1L791.5 423.2L760.8 411.1zM760.8 411.1L789.1 422.3L788.7 423.4L760.4 412.2zM760.4 412.2L765.1 414.1L764.6 415.2L759.9 413.3zM759.9 413.3L765.2 415.4L764.8 416.5L759.5 414.4zM759.5 414.4L764.5 416.4L764.1 417.5L759.1 415.5zM759.1 415.5L763.1 417.1L762.6 418.2L758.6 416.6zM758.6 416.6L762.0 417.9L761.5 419.0L758.2 417.7zM758.2 417.7L761.1 418.8L760.7 419.9L757.8 418.8zM757.8 418.8L762.7 420.7L762.2 421.8L757.3 419.9zM757.3 419.9L761.8 421.7L761.3 422.8L756.9 421.0zM756.9 421.0L761.5 422.9L761.0 424.0L756.4 422.1zM756.4 422.1L759.8 423.5L759.3 424.6L756.0 423.2zM756.0 423.2L760.5 425.1L760.1 426.2L755.5 424.3zM755.5 424.3L760.2 426.2L759.8 427.3L755.1 425.4zM755.1 425.4L757.9 426.6L757.4 427.7L754.6 426.5zM754.6 426.5L758.5 428.1L758.1 429.2L754.2 427.6zM754.2 427.6L756.7 428.7L756.3 429.8L753.7 428.7zM753.7 428.7L757.8 430.4L757.4 431.5L753.2 429.8zM753.2 429.8L756.4 431.1L755.9 432.2L752.8 430.9zM752.8 430.9L756.8 432.6L756.4 433.7L752.3 432.0zM752.3 432.0L755.9 433.5L755.4 434.6L751.9 433.1zM751.9 433.1L754.3 434.1L753.9 435.2L751.4 434.2zM751.4 434.2L755.5 435.9L755.1 437.0L751.0 435.3zM751.0 435.3L755.1 437.0L754.6 438.1L750.5 436.4zM750.5 436.4L753.4 437.6L753.0 438.7L750.1 437.5zM750.1 437.5L756.8 440.3L756.3 441.4L749.6 438.6zM749.6 438.6L756.5 441.4L756.0 442.5L749.1 439.7zM749.1 439.7L752.7 441.2L752.3 442.3L748.7 440.8zM748.7 440.8L752.3 442.3L751.8 443.4L748.2 441.9zM748.2 441.9L755.1 444.7L754.6 445.8L747.8 443.0zM747.8 443.0L751.9 444.7L751.5 445.8L747.3 444.1zM747.3 444.1L752.1 446.1L751.6 447.2L746.9 445.2zM746.9 445.2L751.3 447.0L750.8 448.1L746.4 446.3zM746.4 446.3L759.2 451.6L758.8 452.7L746.0 447.4zM746.0 447.4L751.5 449.7L751.0 450.8L745.5 448.5zM745.5 448.5L752.0 451.2L751.5 452.3L745.0 449.6zM745.0 449.6L755.8 454.1L755.4 455.2L744.6 450.7zM744.6 450.7L749.4 452.7L749.0 453.8L744.1 451.8zM744.1 451.8L750.4 454.4L750.0 455.5L743.7 452.9zM743.7 452.9L750.8 455.8L750.3 456.9L743.2 454.0zM743.2 454.0L748.6 456.2L748.1 457.3L742.8 455.1zM742.8 455.1L752.5 459.1L752.0 460.2L742.3 456.2zM742.3 456.2L748.0 458.6L747.6 459.7L741.9 457.3zM741.9 457.3L750.1 460.7L749.6 461.8L741.4 458.4zM741.4 458.4L755.7 464.3L755.2 465.4L740.9 459.5zM740.9 459.5L747.6 462.2L747.1 463.3L740.5 460.6zM740.5 460.6L747.4 463.5L746.9 464.6L740.0 461.7zM740.0 461.7L745.9 464.1L745.4 465.2L739.6 462.8zM739.6 462.8L754.7 469.1L754.3 470.2L739.1 463.9zM739.1 463.9L747.9 467.5L747.5 468.6L738.7 465.0zM738.7 465.0L743.4 466.9L742.9 468.0L738.2 466.1zM738.2 466.1L740.0 466.8L739.6 467.9L737.8 467.2zM737.8 467.2L740.2 468.2L739.8 469.3L737.3 468.3zM737.3 468.3L739.1 469.0L738.6 470.1L736.9 469.4zM736.9 469.4L738.9 470.3L738.5 471.4L736.4 470.5zM736.4 470.5L738.5 471.4L738.1 472.5L735.9 471.6zM735.9 471.6L737.4 472.2L736.9 473.3L735.5 472.7zM735.5 472.7L737.0 473.3L736.5 474.4L735.0 473.8zM735.0 473.8L737.2 474.7L736.7 475.8L734.6 474.9zM734.6 474.9L736.8 475.8L736.3 476.9L734.1 476.0zM734.1 476.0L736.5 477.0L736.1 478.1L733.7 477.1zM733.7 477.1L762.6 489.1L762.2 490.2L733.2 478.2zM733.2 478.2L763.5 490.8L763.1 491.9L732.8 479.3zM732.8 479.3L735.0 480.2L734.5 481.3L732.3 480.4zM732.3 480.4L736.3 482.1L735.8 483.2L731.8 481.5zM731.8 481.5L760.9 493.5L760.4 494.6L731.4 482.6zM731.4 482.6L761.6 495.1L761.1 496.2L730.9 483.7zM730.9 483.7L758.5 495.1L758.0 496.2L730.5 484.8zM730.5 484.8L734.1 486.3L733.6 487.4L730.0 485.9zM730.0 485.9L735.2 488.0L734.8 489.1L729.6 487.0zM729.6 487.0L735.2 489.3L734.7 490.4L729.1 488.1zM729.1 488.1L734.6 490.4L734.1 491.5L728.7 489.2zM728.7 489.2L733.5 491.2L733.1 492.3L728.2 490.3zM728.2 490.3L734.2 492.8L733.7 493.9L727.7 491.4zM727.7 491.4L734.4 494.2L734.0 495.3L727.3 492.5zM727.3 492.5L734.6 495.5L734.1 496.6L726.8 493.6zM726.8 493.6L732.9 496.1L732.4 497.2L726.4 494.7zM726.4 494.7L733.8 497.8L733.3 498.9L725.9 495.8zM725.9 495.8L731.8 498.2L731.3 499.3L725.5 496.9zM725.5 496.9L733.4 500.2L732.9 501.3L725.0 498.0zM725.0 498.0L732.4 501.1L732.0 502.2L724.6 499.1zM724.6 499.1L735.3 503.6L734.9 504.7L724.1 500.2zM724.1 500.2L730.9 503.0L730.4 504.1L723.6 501.3zM723.6 501.3L740.0 508.1L739.5 509.2L723.2 502.4zM723.2 502.4L730.8 505.5L730.3 506.6L722.7 503.5zM722.7 503.5L731.8 507.2L731.3 508.3L722.3 504.6zM722.3 504.6L728.3 507.1L727.9 508.2L721.8 505.7zM721.8 505.7L730.8 509.4L730.4 510.5L721.4 506.8zM721.4 506.8L730.2 510.5L729.7 511.6L720.9 507.9zM720.9 507.9L738.5 515.2L738.0 516.3L720.5 509.0zM720.5 509.0L729.9 512.9L729.4 514.0L720.0 510.1zM720.0 510.1L729.0 513.8L728.6 514.9L719.5 511.2zM719.5 511.2L729.3 515.2L728.8 516.3L719.1 512.3zM719.1 512.3L724.6 514.6L724.2 515.7L718.6 513.4zM718.6 513.4L725.4 516.2L724.9 517.3L718.2 514.5zM718.2 514.5L724.7 517.2L724.2 518.3L717.7 515.6zM717.7 515.6L722.8 517.7L722.4 518.8L717.3 516.7zM717.3 516.7L725.3 520.0L724.8 521.1L716.8 517.8zM716.8 517.8L724.1 520.8L723.6 521.9L716.4 518.9zM716.4 518.9L722.3 521.4L721.9 522.5L715.9 520.0zM715.9 520.0L723.3 523.1L722.9 524.2L715.4 521.1zM715.4 521.1L719.0 522.6L718.6 523.7L715.0 522.2z"/>
<path fill="#ee1c14" stroke="#ee1c14" stroke-width="0.35" d="M816.2 288.5L786.2 274.8L785.7 275.9L815.7 289.6zM815.7 289.6L785.7 275.9L785.2 277.0L815.2 290.7zM815.2 290.7L787.1 277.9L786.6 279.0L814.7 291.8zM814.7 291.8L786.5 278.9L786.0 280.0L814.2 292.9zM814.2 292.9L784.2 279.2L783.7 280.3L813.7 294.0zM813.7 294.0L783.8 280.3L783.3 281.4L813.2 295.1zM813.2 295.1L783.5 281.5L783.0 282.6L812.7 296.2zM812.7 296.2L783.9 283.1L783.4 284.2L812.2 297.3zM812.2 297.3L782.6 283.8L782.1 284.9L811.7 298.4zM811.7 298.4L782.1 284.9L781.6 286.0L811.2 299.5zM811.2 299.5L781.7 286.0L781.2 287.1L810.7 300.6zM810.7 300.6L782.3 287.6L781.8 288.7L810.2 301.7zM810.2 301.7L781.1 288.4L780.6 289.5L809.7 302.8zM809.7 302.8L780.7 289.5L780.2 290.6L809.2 303.9zM809.2 303.9L779.3 290.2L778.8 291.3L808.6 305.0zM808.6 305.0L778.6 291.3L778.1 292.4L808.1 306.1zM808.1 306.1L778.1 292.4L777.6 293.5L807.6 307.2zM807.6 307.2L778.3 293.8L777.8 294.9L807.1 308.3zM807.1 308.3L778.0 295.0L777.5 296.1L806.6 309.4zM806.6 309.4L778.0 296.3L777.5 297.4L806.1 310.5zM806.1 310.5L778.1 297.7L777.6 298.8L805.6 311.6zM805.6 311.6L780.2 300.0L779.7 301.1L805.1 312.7zM805.1 312.7L803.2 311.8L802.7 312.9L804.6 313.8zM804.6 313.8L802.7 312.9L802.2 314.0L804.1 314.9zM804.1 314.9L802.0 313.9L801.5 315.0L803.6 316.0zM803.6 316.0L801.0 314.8L800.5 315.9L803.1 317.1zM803.1 317.1L801.2 316.2L800.7 317.3L802.6 318.2zM802.6 318.2L800.4 317.2L799.9 318.3L802.1 319.3zM802.1 319.3L799.6 318.1L799.1 319.2L801.6 320.4zM801.6 320.4L798.7 319.1L798.2 320.2L801.1 321.5zM801.1 321.5L798.4 320.3L797.9 321.4L800.6 322.6zM800.6 322.6L797.4 321.1L796.9 322.2L800.1 323.7zM800.1 323.7L797.0 322.3L796.5 323.4L799.6 324.8zM799.6 324.8L794.4 322.4L793.9 323.5L799.1 325.9zM799.1 325.9L793.6 323.4L793.1 324.5L798.6 327.0zM798.6 327.0L793.2 324.5L792.6 325.6L798.1 328.1zM798.1 328.1L791.7 325.2L791.2 326.3L797.6 329.2zM797.6 329.2L790.3 325.9L789.8 327.0L797.1 330.3zM797.1 330.3L789.7 326.9L789.2 328.0L796.6 331.4zM796.6 331.4L785.8 326.5L785.3 327.6L796.1 332.5zM796.1 332.5L786.6 328.2L786.1 329.3L795.6 333.6zM795.6 333.6L784.6 328.6L784.1 329.7L795.1 334.7zM795.1 334.7L786.7 330.9L786.2 332.0L794.6 335.8zM794.6 335.8L782.6 330.3L782.1 331.4L794.1 336.9zM794.1 336.9L780.1 330.5L779.6 331.6L793.6 338.0zM793.6 338.0L777.0 330.4L776.5 331.5L793.1 339.1zM793.1 339.1L773.3 330.1L772.8 331.2L792.5 340.2zM792.5 340.2L775.0 332.2L774.5 333.3L792.0 341.3zM792.0 341.3L771.1 331.7L770.6 332.8L791.5 342.4zM791.5 342.4L763.0 329.3L762.5 330.4L791.0 343.5zM791.0 343.5L763.8 331.0L763.3 332.1L790.5 344.6zM790.5 344.6L766.7 333.7L766.2 334.8L790.0 345.7zM790.0 345.7L764.9 334.2L764.4 335.3L789.5 346.8zM789.5 346.8L759.5 333.1L759.0 334.2L789.0 347.9zM789.0 347.9L759.4 334.3L758.9 335.4L788.5 349.0zM788.5 349.0L773.0 341.9L772.5 343.0L788.0 350.1zM788.0 350.1L767.7 340.8L767.2 341.9L787.5 351.2zM787.5 351.2L777.3 346.5L776.8 347.6L787.0 352.3zM787.0 352.3L778.0 348.2L777.5 349.3L786.5 353.4zM786.5 353.4L780.0 350.4L779.5 351.5L786.0 354.5zM786.0 354.5L778.8 351.2L778.3 352.3L785.5 355.6zM785.5 355.6L779.0 352.6L778.5 353.7L785.0 356.7zM785.0 356.7L779.0 353.9L778.5 355.0L784.5 357.8zM784.5 357.8L778.6 355.1L778.1 356.2L784.0 358.9zM784.0 358.9L774.2 354.4L773.7 355.5L783.5 360.0zM783.5 360.0L777.1 357.1L776.6 358.2L783.0 361.1zM783.0 361.1L772.3 356.2L771.8 357.3L782.5 362.2zM782.5 362.2L772.1 357.4L771.6 358.5L782.0 363.3zM782.0 363.3L776.3 360.7L775.8 361.8L781.5 364.4zM781.5 364.4L772.9 360.5L772.4 361.6L781.0 365.5zM781.0 365.5L775.0 362.7L774.5 363.8L780.5 366.6zM780.5 366.6L774.9 364.0L774.4 365.1L780.0 367.7zM780.0 367.7L770.7 363.5L770.2 364.6L779.5 368.8zM779.5 368.8L768.5 363.8L768.0 364.9L779.0 369.9zM779.0 369.9L766.9 364.4L766.4 365.5L778.5 371.0zM778.5 371.0L767.7 366.1L767.2 367.2L778.0 372.1zM778.0 372.1L764.8 366.1L764.3 367.2L777.5 373.2zM777.5 373.2L768.1 368.9L767.6 370.0L777.0 374.3zM777.0 374.3L760.8 366.9L760.3 368.0L776.5 375.4zM776.5 375.4L750.5 363.5L750.0 364.6L775.9 376.5zM775.9 376.5L750.7 364.9L750.2 366.0L775.4 377.6zM775.4 377.6L759.7 370.4L759.2 371.5L774.9 378.7zM774.9 378.7L764.3 373.8L763.8 374.9L774.4 379.8zM774.4 379.8L756.7 371.7L756.2 372.8L773.9 380.9zM773.9 380.9L762.5 375.7L762.0 376.8L773.4 382.0zM773.4 382.0L761.1 376.4L760.6 377.5L772.9 383.1zM772.9 383.1L755.9 375.3L755.4 376.4L772.4 384.2zM772.4 384.2L750.5 374.2L750.0 375.3L771.9 385.3zM771.9 385.3L744.2 372.6L743.7 373.7L771.4 386.4zM771.4 386.4L742.0 372.9L741.5 374.0L770.9 387.5zM770.9 387.5L750.2 378.0L749.7 379.1L770.4 388.6zM770.4 388.6L752.7 380.5L752.2 381.6L769.9 389.7zM769.9 389.7L750.9 381.0L750.4 382.1L769.4 390.8zM769.4 390.8L751.5 382.6L751.0 383.7L768.9 391.9zM768.9 391.9L747.5 382.1L747.0 383.2L768.4 393.0zM768.4 393.0L740.7 380.3L740.2 381.4L767.9 394.1zM767.9 394.1L752.7 387.2L752.2 388.3L767.4 395.2zM767.4 395.2L749.5 387.0L749.0 388.1L766.9 396.3zM766.9 396.3L747.2 387.3L746.7 388.4L766.4 397.4zM766.4 397.4L743.9 387.1L743.4 388.2L765.9 398.5zM765.9 398.5L745.6 389.2L745.1 390.3L765.4 399.6zM765.4 399.6L747.4 392.1L747.0 393.2L764.9 400.7zM764.9 400.7L752.2 395.7L751.8 396.8L764.5 401.8zM764.5 401.8L746.8 394.8L746.4 395.9L764.1 402.9zM764.1 402.9L751.3 397.9L750.9 399.0L763.6 404.0zM763.6 404.0L737.8 393.8L737.3 394.9L763.2 405.1zM763.2 405.1L745.5 398.1L745.1 399.2L762.8 406.2zM762.8 406.2L741.6 397.8L741.2 398.9L762.3 407.3zM762.3 407.3L751.2 402.9L750.8 404.0L761.9 408.4zM761.9 408.4L750.2 403.8L749.7 404.9L761.4 409.5zM761.4 409.5L742.8 402.1L742.4 403.2L761.0 410.6zM761.0 410.6L750.6 406.5L750.1 407.6L760.6 411.7zM760.6 411.7L746.7 406.2L746.2 407.3L760.1 412.8zM760.1 412.8L748.5 408.2L748.1 409.3L759.7 413.9zM759.7 413.9L749.7 409.9L749.3 411.0L759.3 415.0zM759.3 415.0L747.2 410.2L746.8 411.3L758.8 416.1zM758.8 416.1L749.6 412.5L749.2 413.6L758.4 417.2zM758.4 417.2L748.7 413.4L748.3 414.5L758.0 418.3zM758.0 418.3L747.3 414.1L746.9 415.2L757.5 419.4zM757.5 419.4L745.0 414.3L744.5 415.4L757.1 420.5zM757.1 420.5L737.8 412.5L737.3 413.6L756.6 421.6zM756.6 421.6L745.4 416.9L744.9 418.0L756.2 422.7zM756.2 422.7L745.4 418.3L745.0 419.4L755.7 423.8zM755.7 423.8L750.5 421.6L750.1 422.7L755.3 424.9zM755.3 424.9L747.6 421.7L747.1 422.8L754.8 426.0zM754.8 426.0L749.2 423.7L748.7 424.8L754.4 427.1zM754.4 427.1L748.6 424.7L748.2 425.8L753.9 428.2zM753.9 428.2L748.7 426.0L748.2 427.1L753.5 429.3zM753.5 429.3L747.2 426.7L746.8 427.8L753.0 430.4zM753.0 430.4L745.2 427.2L744.7 428.3L752.5 431.5zM752.5 431.5L744.3 428.1L743.9 429.2L752.1 432.6zM752.1 432.6L746.3 430.2L745.8 431.3L751.6 433.7zM751.6 433.7L745.5 431.2L745.0 432.3L751.2 434.8zM751.2 434.8L742.5 431.2L742.0 432.3L750.7 435.9zM750.7 435.9L741.7 432.2L741.2 433.3L750.3 437.0zM750.3 437.0L743.3 434.1L742.9 435.2L749.8 438.1zM749.8 438.1L736.6 432.6L736.2 433.7L749.4 439.2zM749.4 439.2L734.5 433.1L734.1 434.2L748.9 440.3zM748.9 440.3L740.5 436.8L740.0 437.9L748.4 441.4zM748.4 441.4L733.2 435.1L732.7 436.2L748.0 442.5zM748.0 442.5L738.8 438.7L738.3 439.8L747.5 443.6zM747.5 443.6L737.3 439.4L736.9 440.5L747.1 444.7zM747.1 444.7L733.1 438.9L732.6 440.0L746.6 445.8zM746.6 445.8L733.5 440.4L733.1 441.5L746.2 446.9zM746.2 446.9L723.6 437.6L723.2 438.7L745.7 448.0zM745.7 448.0L735.7 443.8L735.2 444.9L745.3 449.1zM745.3 449.1L729.6 442.6L729.2 443.7L744.8 450.2zM744.8 450.2L727.2 442.9L726.8 444.0L744.3 451.3zM744.3 451.3L728.1 444.6L727.7 445.7L743.9 452.4zM743.9 452.4L725.1 444.6L724.6 445.7L743.4 453.5zM743.4 453.5L729.1 447.5L728.6 448.6L743.0 454.6zM743.0 454.6L721.7 445.8L721.2 446.9L742.5 455.7zM742.5 455.7L726.9 449.3L726.5 450.4L742.1 456.8zM742.1 456.8L730.0 451.8L729.6 452.9L741.6 457.9zM741.6 457.9L730.9 453.5L730.5 454.6L741.2 459.0zM741.2 459.0L730.2 454.5L729.7 455.6L740.7 460.1zM740.7 460.1L735.1 457.8L734.7 458.9L740.2 461.2zM740.2 461.2L737.3 460.0L736.9 461.1L739.8 462.3zM739.8 462.3L736.2 460.8L735.7 461.9L739.3 463.4zM739.3 463.4L735.2 461.7L734.8 462.8L738.9 464.5zM738.9 464.5L735.2 463.0L734.7 464.1L738.4 465.6zM738.4 465.6L734.6 464.0L734.1 465.1L738.0 466.7zM738.0 466.7L732.4 464.4L731.9 465.5L737.5 467.8zM737.5 467.8L734.0 466.3L733.5 467.4L737.1 468.9zM737.1 468.9L732.5 467.0L732.1 468.1L736.6 470.0zM736.6 470.0L730.1 467.3L729.7 468.4L736.1 471.1zM736.1 471.1L731.3 469.1L730.9 470.2L735.7 472.2zM735.7 472.2L731.6 470.5L731.1 471.6L735.2 473.3zM735.2 473.3L730.4 471.3L729.9 472.4L734.8 474.4zM734.8 474.4L730.0 472.4L729.6 473.5L734.3 475.5zM734.3 475.5L731.1 474.2L730.6 475.3L733.9 476.6zM733.9 476.6L730.1 475.0L729.6 476.1L733.4 477.7zM733.4 477.7L730.2 476.4L729.7 477.5L733.0 478.8zM733.0 478.8L730.9 478.0L730.5 479.1L732.5 479.9zM732.5 479.9L731.6 479.5L731.2 480.6L732.0 481.0zM732.0 481.0L731.1 480.6L730.6 481.7L731.6 482.1zM731.6 482.1L729.8 481.3L729.3 482.4L731.1 483.2zM731.1 483.2L730.5 482.9L730.0 484.0L730.7 484.3zM730.7 484.3L729.5 483.8L729.1 484.9L730.2 485.4zM730.2 485.4L729.1 484.9L728.6 486.0L729.8 486.5zM729.8 486.5L728.7 486.1L728.2 487.2L729.3 487.6zM729.3 487.6L728.5 487.3L728.0 488.4L728.9 488.7zM728.9 488.7L727.9 488.3L727.4 489.4L728.4 489.8zM728.4 489.8L727.3 489.3L726.8 490.4L728.0 490.9zM728.0 490.9L726.8 490.4L726.4 491.5L727.5 492.0zM727.5 492.0L726.6 491.6L726.1 492.7L727.0 493.1zM727.0 493.1L725.9 492.6L725.4 493.7L726.6 494.2zM726.6 494.2L725.8 493.9L725.4 495.0L726.1 495.3zM726.1 495.3L725.2 494.9L724.8 496.0L725.7 496.4zM725.7 496.4L724.4 495.9L724.0 497.0L725.2 497.5zM725.2 497.5L724.2 497.1L723.8 498.2L724.8 498.6zM724.8 498.6L723.9 498.2L723.4 499.3L724.3 499.7zM724.3 499.7L723.4 499.3L723.0 500.4L723.9 500.8zM723.9 500.8L722.7 500.3L722.2 501.4L723.4 501.9zM723.4 501.9L722.3 501.5L721.9 502.6L722.9 503.0zM722.9 503.0L721.9 502.6L721.5 503.7L722.5 504.1zM722.5 504.1L721.8 503.8L721.3 504.9L722.0 505.2zM722.0 505.2L721.2 504.8L720.7 505.9L721.6 506.3zM721.6 506.3L720.4 505.8L720.0 506.9L721.1 507.4zM721.1 507.4L720.2 507.0L719.8 508.1L720.7 508.5zM720.7 508.5L719.9 508.2L719.5 509.3L720.2 509.6zM720.2 509.6L719.3 509.2L718.9 510.3L719.8 510.7zM719.8 510.7L718.6 510.2L718.1 511.3L719.3 511.8zM719.3 511.8L718.3 511.4L717.8 512.5L718.8 512.9zM718.8 512.9L718.0 512.6L717.6 513.7L718.4 514.0zM718.4 514.0L717.6 513.7L717.1 514.8L717.9 515.1zM717.9 515.1L716.4 514.5L715.9 515.6L717.5 516.2zM717.5 516.2L712.9 514.3L712.5 515.4L717.0 517.3zM717.0 517.3L711.8 515.1L711.4 516.2L716.6 518.4zM716.6 518.4L704.7 513.5L704.3 514.6L716.1 519.5zM716.1 519.5L703.3 514.2L702.9 515.3L715.7 520.6zM715.7 520.6L707.9 517.4L707.5 518.5L715.2 521.7zM715.2 521.7L708.4 518.9L708.0 520.0L714.7 522.8zM714.7 522.8L706.5 519.4L706.0 520.5L714.3 523.9zM714.3 523.9L708.8 521.6L708.4 522.7L713.8 525.0zM713.8 525.0L706.4 521.9L706.0 523.0L713.4 526.1zM713.4 526.1L707.2 523.5L706.7 524.6L712.9 527.2zM712.9 527.2L699.6 521.7L699.1 522.8L712.5 528.3zM712.5 528.3L705.8 525.6L705.4 526.7L712.0 529.4zM712.0 529.4L705.5 526.7L705.1 527.8L711.6 530.5zM711.6 530.5L702.4 526.7L702.0 527.8L711.1 531.6zM711.1 531.6L703.2 528.3L702.8 529.4L710.6 532.7zM710.6 532.7L702.8 529.4L702.3 530.5L710.2 533.8zM710.2 533.8L702.0 530.4L701.5 531.5L709.7 534.9zM709.7 534.9L702.2 531.8L701.8 532.9L709.3 536.0zM709.3 536.0L698.6 531.6L698.1 532.7L708.8 537.1zM708.8 537.1L703.2 534.8L702.8 535.9L708.4 538.2zM708.4 538.2L703.6 536.2L703.2 537.3L707.9 539.3zM707.9 539.3L702.7 537.1L702.2 538.2L707.5 540.4zM707.5 540.4L700.5 537.5L700.0 538.6L707.0 541.5zM707.0 541.5L700.1 538.6L699.6 539.7L706.5 542.6zM706.5 542.6L702.9 541.1L702.4 542.2L706.1 543.7zM706.1 543.7L701.5 541.8L701.1 542.9L705.6 544.8zM705.6 544.8L699.7 542.3L699.2 543.4L705.2 545.9zM705.2 545.9L700.8 544.1L700.3 545.2L704.7 547.0zM704.7 547.0L701.1 545.5L700.6 546.6L704.3 548.1zM704.3 548.1L700.3 546.7L699.9 547.8L703.9 549.2z"/>
<path fill="#f6a21e" stroke="#f6a21e" stroke-width="0.35" d="M885.4 356.1L887.1 356.7L886.7 357.8L885.1 357.2zM885.1 357.2L890.3 359.0L889.9 360.1L884.7 358.3zM884.7 358.3L887.1 359.1L886.7 360.2L884.3 359.4zM884.3 359.4L887.3 360.4L886.9 361.5L883.9 360.5zM883.9 360.5L888.6 362.1L888.2 363.2L883.6 361.6zM883.6 361.6L887.9 363.1L887.6 364.2L883.2 362.7zM883.2 362.7L887.2 364.1L886.8 365.2L882.8 363.8zM882.8 363.8L886.9 365.2L886.5 366.3L882.4 364.9zM882.4 364.9L886.3 366.2L885.9 367.3L882.1 366.0zM882.1 366.0L888.3 368.1L887.9 369.2L881.7 367.1zM881.7 367.1L886.3 368.7L885.9 369.8L881.3 368.2zM881.3 368.2L886.4 369.9L886.0 371.0L880.9 369.3zM880.9 369.3L886.0 371.0L885.6 372.1L880.6 370.4zM880.6 370.4L884.3 371.7L884.0 372.8L880.2 371.5zM880.2 371.5L881.4 371.9L881.0 373.0L879.8 372.6zM876.0 383.6L876.6 383.8L876.2 384.9L875.7 384.7zM875.7 384.7L876.2 384.9L875.9 386.0L875.3 385.8zM875.3 385.8L876.0 386.0L875.6 387.1L874.9 386.9zM874.9 386.9L875.7 387.2L875.3 388.3L874.5 388.0zM874.5 388.0L875.3 388.3L874.9 389.4L874.2 389.1zM874.2 389.1L875.0 389.4L874.6 390.5L873.8 390.2zM873.8 390.2L874.7 390.5L874.3 391.6L873.4 391.3zM873.4 391.3L874.4 391.6L874.0 392.7L873.0 392.4zM873.0 392.4L873.7 392.6L873.3 393.7L872.7 393.5zM872.7 393.5L873.5 393.8L873.1 394.9L872.3 394.6zM872.3 394.6L873.1 394.9L872.7 396.0L871.9 395.7zM871.9 395.7L873.6 396.3L873.3 397.4L871.5 396.8zM871.5 396.8L873.1 397.3L872.7 398.4L871.2 397.9zM871.2 397.9L872.4 398.3L872.0 399.4L870.8 399.0zM870.8 399.0L872.1 399.5L871.8 400.6L870.4 400.1zM870.4 400.1L871.5 400.5L871.2 401.6L870.0 401.2zM870.0 401.2L871.5 401.7L871.2 402.8L869.7 402.3zM869.7 402.3L871.5 402.9L871.2 404.0L869.3 403.4zM869.3 403.4L870.3 403.8L869.9 404.9L868.9 404.5zM868.9 404.5L870.3 405.0L869.9 406.1L868.5 405.6zM868.5 405.6L869.5 405.9L869.1 407.0L868.2 406.7zM868.2 406.7L869.4 407.1L869.0 408.2L867.8 407.8zM867.8 407.8L869.6 408.4L869.2 409.5L867.4 408.9zM867.4 408.9L868.9 409.4L868.5 410.5L867.0 410.0zM867.0 410.0L868.7 410.6L868.3 411.7L866.6 411.1zM866.6 411.1L868.3 411.7L867.9 412.8L866.3 412.2zM866.3 412.2L868.3 412.9L868.0 414.0L865.9 413.3zM865.9 413.3L867.5 413.8L867.1 414.9L865.5 414.4zM865.5 414.4L867.0 414.9L866.6 416.0L865.2 415.5zM865.2 415.5L867.6 416.3L867.2 417.4L864.8 416.6zM864.8 416.6L867.7 417.6L867.3 418.7L864.4 417.7zM864.4 417.7L866.3 418.3L866.0 419.4L864.1 418.8zM864.1 418.8L865.5 419.3L865.2 420.4L863.7 419.9zM863.7 419.9L867.1 421.0L866.8 422.1L863.3 421.0zM863.3 421.0L865.8 421.8L865.4 422.9L863.0 422.1zM863.0 422.1L865.6 423.0L865.2 424.1L862.6 423.2zM862.6 423.2L865.4 424.1L865.0 425.2L862.2 424.3zM862.2 424.3L865.2 425.3L864.8 426.4L861.9 425.4zM861.9 425.4L866.6 427.0L866.2 428.1L861.5 426.5zM861.5 426.5L865.7 427.9L865.4 429.0L861.1 427.6zM861.1 427.6L866.4 429.4L866.1 430.5L860.8 428.7zM860.8 428.7L865.3 430.2L865.0 431.3L860.4 429.8zM860.4 429.8L865.0 431.3L864.6 432.4L860.1 430.9zM860.1 430.9L864.4 432.3L864.0 433.4L859.7 432.0zM859.7 432.0L868.1 434.8L867.8 435.9L859.3 433.1zM859.3 433.1L864.5 434.8L864.2 435.9L859.0 434.2zM859.0 434.2L863.3 435.7L863.0 436.8L858.6 435.3zM858.6 435.3L864.5 437.3L864.2 438.4L858.2 436.4zM858.2 436.4L862.2 437.7L861.9 438.8L857.9 437.5zM857.9 437.5L863.5 439.4L863.1 440.5L857.5 438.6zM857.5 438.6L861.9 440.1L861.6 441.2L857.1 439.7zM857.1 439.7L863.2 441.7L862.8 442.8L856.8 440.8zM856.8 440.8L862.9 442.8L862.5 443.9L856.4 441.9zM856.4 441.9L860.9 443.4L860.5 444.5L856.0 443.0zM856.0 443.0L862.2 445.1L861.9 446.2L855.7 444.1zM855.7 444.1L859.8 445.5L859.4 446.6L855.3 445.2zM855.3 445.2L860.3 446.9L859.9 448.0L854.9 446.3zM854.9 446.3L860.6 448.2L860.3 449.3L854.6 447.4zM854.6 447.4L858.3 448.7L858.0 449.8L854.2 448.5zM854.2 448.5L859.7 450.3L859.3 451.4L853.8 449.6zM853.8 449.6L859.2 451.4L858.9 452.5L853.5 450.7zM853.5 450.7L872.1 456.9L871.7 458.0L853.1 451.8zM853.1 451.8L871.0 457.7L870.6 458.8L852.7 452.9zM852.7 452.9L856.8 454.2L856.4 455.3L852.4 454.0zM852.4 454.0L857.6 455.7L857.3 456.8L852.0 455.1zM852.0 455.1L854.9 456.1L854.5 457.2L851.6 456.2zM851.6 456.2L856.8 457.9L856.4 459.0L851.3 457.3zM851.3 457.3L855.3 458.6L854.9 459.7L850.9 458.4zM850.9 458.4L856.2 460.2L855.8 461.3L850.5 459.5zM850.5 459.5L855.3 461.1L855.0 462.2L850.2 460.6zM850.2 460.6L854.8 462.1L854.4 463.2L849.8 461.7zM849.8 461.7L853.4 462.9L853.1 464.0L849.5 462.8zM849.5 462.8L854.4 464.5L854.1 465.6L849.1 463.9zM849.1 463.9L853.5 465.4L853.1 466.5L848.7 465.0zM848.7 465.0L855.9 467.4L855.5 468.5L848.4 466.1zM848.4 466.1L853.6 467.8L853.2 468.9L848.0 467.2zM848.0 467.2L853.3 469.0L853.0 470.1L847.6 468.3zM847.6 468.3L853.0 470.1L852.6 471.2L847.3 469.4zM847.3 469.4L877.7 479.5L877.4 480.6L846.9 470.5zM846.9 470.5L878.5 481.0L878.2 482.1L846.5 471.6zM846.5 471.6L850.8 473.0L850.4 474.1L846.2 472.7zM846.2 472.7L851.0 474.3L850.7 475.4L845.8 473.8zM845.8 473.8L849.7 475.1L849.3 476.2L845.4 474.9zM845.4 474.9L876.5 485.2L876.1 486.3L845.1 476.0zM845.1 476.0L877.7 486.8L877.3 487.9L844.7 477.1zM844.7 477.1L877.7 488.1L877.3 489.2L844.3 478.2zM844.3 478.2L850.1 480.1L849.8 481.2L844.0 479.3zM844.0 479.3L847.4 480.4L847.0 481.5L843.6 480.4zM843.6 480.4L854.0 483.9L853.7 485.0L843.2 481.5zM843.2 481.5L850.3 483.9L850.0 485.0L842.9 482.6zM842.9 482.6L853.8 486.2L853.4 487.3L842.5 483.7zM842.5 483.7L854.5 487.7L854.1 488.8L842.1 484.8zM842.1 484.8L855.2 489.1L854.8 490.2L841.8 485.9zM841.8 485.9L852.5 489.5L852.1 490.6L841.4 487.0zM841.4 487.0L852.3 490.6L851.9 491.7L841.0 488.1zM841.0 488.1L869.2 497.4L868.8 498.5L840.7 489.2zM840.7 489.2L857.4 494.7L857.0 495.8L840.3 490.3zM840.3 490.3L855.3 495.3L854.9 496.4L839.9 491.4zM839.9 491.4L863.9 499.4L863.6 500.5L839.6 492.5zM839.6 492.5L863.0 500.3L862.6 501.4L839.2 493.6zM839.2 493.6L857.5 499.7L857.2 500.8L838.8 494.7zM838.8 494.7L862.9 502.7L862.6 503.8L838.5 495.8zM838.5 495.8L853.0 500.6L852.7 501.7L838.1 496.9zM838.1 496.9L855.6 502.7L855.2 503.8L837.8 498.0zM837.8 498.0L850.8 502.3L850.4 503.4L837.4 499.1zM837.4 499.1L850.1 503.3L849.8 504.4L837.0 500.2zM837.0 500.2L846.2 503.3L845.8 504.4L836.7 501.3zM836.7 501.3L866.1 511.1L865.7 512.2L836.3 502.4zM836.3 502.4L846.2 505.7L845.8 506.8L835.9 503.5zM835.9 503.5L846.4 507.0L846.0 508.1L835.6 504.6zM835.6 504.6L843.1 507.1L842.8 508.2L835.2 505.7zM835.2 505.7L854.1 512.0L853.7 513.1L834.8 506.8zM834.8 506.8L844.5 510.0L844.2 511.1L834.5 507.9zM834.5 507.9L847.0 512.1L846.7 513.2L834.1 509.0zM834.1 509.0L844.6 512.5L844.2 513.6L833.7 510.1zM833.7 510.1L848.0 514.9L847.7 516.0L833.4 511.2zM833.4 511.2L861.2 520.5L860.9 521.6L833.0 512.3zM833.0 512.3L857.8 520.5L857.4 521.6L832.6 513.4zM832.6 513.4L856.0 521.1L855.6 522.2L832.3 514.5zM832.3 514.5L865.5 525.5L865.1 526.6L831.9 515.6zM831.9 515.6L849.3 521.4L848.9 522.5L831.5 516.7zM831.5 516.7L854.7 524.4L854.4 525.5L831.2 517.8zM831.2 517.8L847.9 523.4L847.6 524.5L830.8 518.9zM830.8 518.9L856.8 527.5L856.4 528.6L830.4 520.0zM830.4 520.0L857.7 529.1L857.3 530.2L830.1 521.1zM830.1 521.1L857.3 530.2L857.0 531.3L829.7 522.2zM829.7 522.2L856.9 531.2L856.5 532.3L829.3 523.3zM829.3 523.3L852.9 531.1L852.5 532.2L829.0 524.4zM829.0 524.4L844.9 529.7L844.5 530.8L828.6 525.5zM828.6 525.5L851.2 533.0L850.8 534.1L828.2 526.6zM828.2 526.6L845.1 532.2L844.8 533.3L827.9 527.7zM827.9 527.7L861.1 538.7L860.7 539.8L827.5 528.8zM827.5 528.8L847.5 535.4L847.1 536.5L827.2 529.9zM827.2 529.9L849.7 537.4L849.3 538.5L826.8 531.0zM826.8 531.0L838.1 534.7L837.7 535.8L826.4 532.1zM826.4 532.1L841.1 537.0L840.8 538.1L826.1 533.2zM826.1 533.2L838.5 537.3L838.1 538.4L825.7 534.3zM825.7 534.3L837.8 538.3L837.4 539.4L825.3 535.4zM825.3 535.4L842.6 541.1L842.2 542.2L825.0 536.5zM825.0 536.5L837.1 540.5L836.8 541.6L824.6 537.6zM824.6 537.6L842.0 543.4L841.6 544.5L824.2 538.7zM824.2 538.7L836.7 542.9L836.4 544.0L823.9 539.8zM823.9 539.8L835.4 543.6L835.1 544.7L823.5 540.9zM823.5 540.9L833.1 544.1L832.7 545.2L823.1 542.0zM823.1 542.0L834.3 545.7L834.0 546.8L822.8 543.1zM822.8 543.1L828.9 545.1L828.5 546.2L822.4 544.2zM822.4 544.2L831.4 547.2L831.0 548.3L822.0 545.3zM822.0 545.3L827.8 547.2L827.5 548.3L821.7 546.4zM821.7 546.4L825.6 547.7L825.2 548.8L821.3 547.5zM821.3 547.5L824.4 548.5L824.0 549.6L820.9 548.6zM820.9 548.6L823.9 549.6L823.5 550.7L820.6 549.7zM820.6 549.7L824.2 550.9L823.9 552.0L820.2 550.8zM820.2 550.8L823.0 551.7L822.6 552.8L819.8 551.9zM819.8 551.9L833.5 556.4L833.1 557.5L819.5 553.0zM819.5 553.0L822.1 553.9L821.8 555.0L819.1 554.1zM819.1 554.1L821.3 554.8L820.9 555.9L818.7 555.2zM818.7 555.2L821.6 556.1L821.2 557.2L818.4 556.3zM818.4 556.3L821.1 557.2L820.8 558.3L818.0 557.4zM818.0 557.4L821.5 558.6L821.1 559.7L817.6 558.5zM817.6 558.5L821.5 559.8L821.1 560.9L817.3 559.6zM817.3 559.6L820.3 560.6L820.0 561.7L816.9 560.7zM816.9 560.7L820.4 561.8L820.0 562.9L816.5 561.8zM816.5 561.8L819.5 562.8L819.1 563.9L816.2 562.9zM816.2 562.9L819.3 563.9L819.0 565.0L815.8 564.0zM815.8 564.0L818.4 564.8L818.0 565.9L815.5 565.1zM815.5 565.1L818.9 566.2L818.5 567.3L815.1 566.2zM815.1 566.2L817.3 566.9L816.9 568.0L814.7 567.3zM814.7 567.3L817.7 568.3L817.3 569.4L814.4 568.4zM814.4 568.4L817.6 569.5L817.3 570.6L814.0 569.5zM814.0 569.5L816.1 570.2L815.7 571.3L813.6 570.6zM813.6 570.6L815.6 571.2L815.2 572.3L813.3 571.7zM813.3 571.7L815.5 572.4L815.1 573.5L812.9 572.8zM812.9 572.8L814.9 573.5L814.6 574.6L812.5 573.9zM812.5 573.9L814.1 574.4L813.7 575.5L812.2 575.0zM812.2 575.0L813.1 575.3L812.7 576.4L811.8 576.1zM811.8 576.1L812.4 576.3L812.1 577.4L811.4 577.2z"/>
<path fill="#ee1c14" stroke="#ee1c14" stroke-width="0.35" d="M910.4 283.0L909.1 282.5L908.7 283.6L910.1 284.1zM910.1 284.1L908.5 283.6L908.1 284.7L909.7 285.2zM909.7 285.2L908.4 284.8L908.1 285.9L909.3 286.3zM909.3 286.3L907.1 285.5L906.7 286.6L908.9 287.4zM908.9 287.4L906.8 286.7L906.5 287.8L908.6 288.5zM908.6 288.5L906.7 287.9L906.3 289.0L908.2 289.6zM908.2 289.6L906.7 289.1L906.3 290.2L907.8 290.7zM907.8 290.7L906.3 290.2L905.9 291.3L907.4 291.8zM907.4 291.8L905.1 291.0L904.7 292.1L907.1 292.9zM907.1 292.9L904.7 292.1L904.3 293.2L906.7 294.0zM906.7 294.0L904.9 293.4L904.5 294.5L906.3 295.1zM906.3 295.1L904.0 294.3L903.6 295.4L905.9 296.2zM905.9 296.2L902.2 294.9L901.8 296.0L905.5 297.3zM905.5 297.3L903.3 296.5L902.9 297.6L905.2 298.4zM905.2 298.4L903.0 297.7L902.7 298.8L904.8 299.5zM904.8 299.5L901.7 298.4L901.3 299.5L904.4 300.6zM904.4 300.6L901.6 299.6L901.2 300.7L904.0 301.7zM904.0 301.7L901.7 300.9L901.4 302.0L903.7 302.8zM903.7 302.8L900.8 301.8L900.4 302.9L903.3 303.9zM903.3 303.9L900.4 302.9L900.1 304.0L902.9 305.0zM902.9 305.0L900.6 304.2L900.2 305.3L902.5 306.1zM902.5 306.1L900.0 305.2L899.7 306.3L902.2 307.2zM902.2 307.2L900.3 306.6L899.9 307.7L901.8 308.3zM901.8 308.3L897.6 306.9L897.2 308.0L901.4 309.4zM901.4 309.4L899.6 308.8L899.3 309.9L901.0 310.5zM901.0 310.5L898.2 309.5L897.8 310.6L900.7 311.6zM900.7 311.6L895.6 309.9L895.2 311.0L900.3 312.7zM900.3 312.7L892.2 309.9L891.8 311.0L899.9 313.8zM899.9 313.8L893.5 311.6L893.1 312.7L899.5 314.9zM899.5 314.9L891.5 312.2L891.1 313.3L899.2 316.0zM899.2 316.0L881.5 310.0L881.1 311.1L898.8 317.1zM898.8 317.1L889.9 314.0L889.5 315.1L898.4 318.2zM898.4 318.2L870.5 308.6L870.1 309.7L898.0 319.3zM898.0 319.3L887.1 315.6L886.7 316.7L897.7 320.4zM897.7 320.4L889.6 317.7L889.3 318.8L897.3 321.5zM897.3 321.5L889.4 318.8L889.1 319.9L896.9 322.6zM896.9 322.6L889.8 320.2L889.5 321.3L896.5 323.7zM896.5 323.7L884.3 319.5L883.9 320.6L896.1 324.8zM896.1 324.8L885.0 321.0L884.6 322.1L895.8 325.9zM895.8 325.9L889.0 323.6L888.6 324.7L895.4 327.0zM895.4 327.0L883.0 322.7L882.6 323.8L895.0 328.1zM895.0 328.1L886.0 325.0L885.6 326.1L894.6 329.2zM894.6 329.2L884.4 325.7L884.1 326.8L894.3 330.3zM894.3 330.3L886.1 327.5L885.7 328.6L893.9 331.4zM893.9 331.4L884.9 328.3L884.5 329.4L893.5 332.5zM893.5 332.5L884.9 329.6L884.6 330.7L893.1 333.6zM893.1 333.6L881.2 329.5L880.8 330.6L892.8 334.7zM892.8 334.7L886.2 332.5L885.9 333.6L892.4 335.8zM892.4 335.8L881.5 332.1L881.2 333.2L892.0 336.9zM892.0 336.9L880.3 332.9L879.9 334.0L891.6 338.0zM891.6 338.0L879.3 333.8L878.9 334.9L891.3 339.1zM891.3 339.1L872.4 332.7L872.0 333.8L890.9 340.2zM890.9 340.2L883.2 337.6L882.8 338.7L890.5 341.3zM890.5 341.3L879.4 337.5L879.0 338.6L890.1 342.4zM890.1 342.4L880.3 339.0L879.9 340.1L889.8 343.5zM889.8 343.5L876.9 339.1L876.5 340.2L889.4 344.6zM889.4 344.6L879.5 341.2L879.1 342.3L889.0 345.7zM889.0 345.7L880.0 342.6L879.6 343.7L888.6 346.8zM888.6 346.8L879.3 343.6L878.9 344.7L888.3 347.9zM888.3 347.9L875.4 343.5L875.0 344.6L887.9 349.0zM887.9 349.0L879.0 346.0L878.7 347.1L887.5 350.1zM887.5 350.1L876.1 346.2L875.7 347.3L887.1 351.2zM887.1 351.2L874.0 346.7L873.6 347.8L886.7 352.3zM886.7 352.3L872.8 347.5L872.4 348.6L886.4 353.4zM886.4 353.4L879.0 350.9L878.6 352.0L886.0 354.5zM886.0 354.5L876.1 351.1L875.8 352.2L885.6 355.6zM885.6 355.6L874.6 351.8L874.2 352.9L885.2 356.7zM885.2 356.7L874.0 352.9L873.6 354.0L884.9 357.8zM884.9 357.8L874.2 354.2L873.9 355.3L884.5 358.9zM884.5 358.9L874.6 355.5L874.2 356.6L884.1 360.0zM884.1 360.0L872.2 355.9L871.8 357.0L883.7 361.1zM883.7 361.1L876.9 358.8L876.6 359.9L883.4 362.2zM883.4 362.2L872.9 358.6L872.5 359.7L883.0 363.3zM883.0 363.3L875.5 360.7L875.1 361.8L882.6 364.4zM882.6 364.4L872.6 361.0L872.2 362.1L882.2 365.5zM882.2 365.5L872.1 362.0L871.7 363.1L881.9 366.6zM881.9 366.6L872.5 363.4L872.2 364.5L881.5 367.7zM881.5 367.7L874.2 365.2L873.8 366.3L881.1 368.8zM881.1 368.8L865.1 363.3L864.7 364.4L880.7 369.9zM880.7 369.9L869.6 366.1L869.2 367.2L880.4 371.0zM880.4 371.0L866.3 366.2L865.9 367.3L880.0 372.1zM880.0 372.1L873.3 369.8L873.0 370.9L879.6 373.2zM879.6 373.2L865.6 368.4L865.3 369.5L879.2 374.3zM879.2 374.3L872.3 371.9L871.9 373.0L878.9 375.4zM878.9 375.4L869.7 372.3L869.3 373.4L878.5 376.5zM878.5 376.5L867.3 372.7L866.9 373.8L878.1 377.6zM878.1 377.6L872.0 375.5L871.6 376.6L877.7 378.7zM877.7 378.7L871.5 376.6L871.2 377.7L877.3 379.8zM877.3 379.8L870.6 377.5L870.2 378.6L877.0 380.9zM877.0 380.9L866.4 377.3L866.0 378.4L876.6 382.0zM876.6 382.0L867.3 378.8L866.9 379.9L876.2 383.1zM876.2 383.1L868.9 380.6L868.5 381.7L875.8 384.2zM875.8 384.2L867.7 381.4L867.4 382.5L875.5 385.3zM875.5 385.3L864.8 381.6L864.4 382.7L875.1 386.4zM875.1 386.4L861.5 381.8L861.1 382.9L874.7 387.5zM874.7 387.5L868.1 385.2L867.8 386.3L874.3 388.6zM874.3 388.6L865.0 385.4L864.6 386.5L874.0 389.7zM874.0 389.7L863.8 386.2L863.4 387.3L873.6 390.8zM873.6 390.8L858.3 385.6L857.9 386.7L873.2 391.9zM873.2 391.9L866.5 389.6L866.1 390.7L872.8 393.0zM872.8 393.0L855.8 387.2L855.4 388.3L872.5 394.1zM872.5 394.1L862.3 390.6L862.0 391.7L872.1 395.2zM872.1 395.2L860.1 391.1L859.8 392.2L871.7 396.3zM871.7 396.3L862.4 393.1L862.0 394.2L871.3 397.4zM871.3 397.4L848.4 389.6L848.1 390.7L871.0 398.5zM871.0 398.5L860.9 395.1L860.5 396.2L870.6 399.6zM870.6 399.6L852.8 393.5L852.5 394.6L870.2 400.7zM870.2 400.7L855.5 395.7L855.1 396.8L869.8 401.8zM869.8 401.8L842.0 392.3L841.6 393.4L869.5 402.9zM869.5 402.9L848.9 395.9L848.5 397.0L869.1 404.0zM869.1 404.0L854.6 399.0L854.2 400.1L868.7 405.1zM868.7 405.1L845.3 397.1L844.9 398.2L868.3 406.2zM868.3 406.2L847.9 399.2L847.5 400.3L867.9 407.3zM867.9 407.3L855.0 402.9L854.7 404.0L867.6 408.4zM867.6 408.4L852.7 403.3L852.3 404.4L867.2 409.5zM867.2 409.5L846.4 402.4L846.1 403.5L866.8 410.6zM866.8 410.6L857.3 407.3L856.9 408.4L866.4 411.7zM866.4 411.7L857.4 408.6L857.0 409.7L866.1 412.8zM866.1 412.8L857.5 409.9L857.1 411.0L865.7 413.9zM865.7 413.9L860.1 412.0L859.7 413.1L865.3 415.0zM865.3 415.0L855.9 411.8L855.5 412.9L865.0 416.1zM865.0 416.1L855.7 413.0L855.4 414.1L864.6 417.2zM864.6 417.2L856.0 414.3L855.6 415.4L864.2 418.3zM864.2 418.3L855.6 415.4L855.2 416.5L863.9 419.4zM863.9 419.4L853.5 416.0L853.1 417.1L863.5 420.5zM863.5 420.5L849.9 416.0L849.6 417.1L863.1 421.6zM863.1 421.6L831.2 411.0L830.8 412.1L862.8 422.7zM862.8 422.7L845.6 417.0L845.2 418.1L862.4 423.8zM862.4 423.8L842.3 417.1L842.0 418.2L862.0 424.9zM862.0 424.9L843.9 418.9L843.5 420.0L861.7 426.0zM861.7 426.0L850.0 422.1L849.7 423.2L861.3 427.1zM861.3 427.1L843.3 421.1L842.9 422.2L860.9 428.2zM860.9 428.2L842.9 422.2L842.5 423.3L860.6 429.3zM860.6 429.3L846.2 424.5L845.8 425.6L860.2 430.4zM860.2 430.4L840.0 423.7L839.6 424.8L859.9 431.5zM859.9 431.5L848.5 427.7L848.2 428.8L859.5 432.6zM859.5 432.6L850.6 429.6L850.2 430.7L859.1 433.7zM859.1 433.7L850.0 430.7L849.7 431.8L858.8 434.8zM858.8 434.8L847.5 431.1L847.1 432.2L858.4 435.9zM858.4 435.9L825.8 425.1L825.5 426.2L858.0 437.0zM858.0 437.0L827.6 426.9L827.2 428.0L857.7 438.1zM857.7 438.1L844.1 433.6L843.8 434.7L857.3 439.2zM857.3 439.2L845.2 435.2L844.8 436.3L856.9 440.3zM856.9 440.3L845.0 436.3L844.6 437.4L856.6 441.4zM856.6 441.4L849.7 439.1L849.4 440.2L856.2 442.5zM856.2 442.5L847.1 439.5L846.8 440.6L855.8 443.6zM855.8 443.6L847.4 440.8L847.0 441.9L855.5 444.7zM855.5 444.7L848.8 442.5L848.5 443.6L855.1 445.8zM855.1 445.8L848.3 443.5L847.9 444.6L854.7 446.9zM854.7 446.9L846.1 444.0L845.7 445.1L854.4 448.0zM854.4 448.0L848.5 446.1L848.2 447.2L854.0 449.1zM854.0 449.1L848.0 447.1L847.6 448.2L853.6 450.2zM853.6 450.2L844.7 447.2L844.3 448.3L853.3 451.3zM853.3 451.3L846.8 449.1L846.4 450.2L852.9 452.4zM852.9 452.4L844.5 449.6L844.1 450.7L852.5 453.5zM852.5 453.5L842.8 450.3L842.5 451.4L852.2 454.6zM852.2 454.6L841.1 450.9L840.8 452.0L851.8 455.7zM851.8 455.7L844.0 453.1L843.6 454.2L851.4 456.8zM851.4 456.8L842.0 453.7L841.6 454.8L851.1 457.9zM851.1 457.9L842.6 455.1L842.2 456.2L850.7 459.0zM850.7 459.0L839.2 455.2L838.9 456.3L850.3 460.1zM850.3 460.1L837.2 455.7L836.9 456.8L850.0 461.2zM850.0 461.2L819.2 451.0L818.9 452.1L849.6 462.3zM849.6 462.3L839.0 458.8L838.6 459.9L849.3 463.4zM849.3 463.4L831.8 457.6L831.4 458.7L848.9 464.5zM848.9 464.5L837.1 460.6L836.7 461.7L848.5 465.6zM848.5 465.6L834.4 460.9L834.0 462.0L848.2 466.7zM848.2 466.7L834.9 462.3L834.5 463.4L847.8 467.8zM847.8 467.8L828.6 461.4L828.3 462.5L847.4 468.9zM847.4 468.9L824.8 461.4L824.4 462.5L847.1 470.0zM847.1 470.0L822.9 462.0L822.5 463.1L846.7 471.1zM846.7 471.1L833.8 466.8L833.4 467.9L846.3 472.2zM846.3 472.2L825.7 465.3L825.3 466.4L846.0 473.3zM846.0 473.3L821.0 465.0L820.7 466.1L845.6 474.4zM845.6 474.4L817.9 465.2L817.5 466.3L845.2 475.5zM845.2 475.5L823.5 468.3L823.2 469.4L844.9 476.6zM844.9 476.6L819.6 468.2L819.2 469.3L844.5 477.7zM844.5 477.7L822.4 470.3L822.0 471.4L844.1 478.8zM844.1 478.8L812.6 468.3L812.2 469.4L843.8 479.9zM843.8 479.9L825.6 473.9L825.3 475.0L843.4 481.0zM843.4 481.0L810.2 470.0L809.8 471.1L843.0 482.1zM843.0 482.1L823.2 475.5L822.9 476.6L842.7 483.2zM842.7 483.2L814.2 473.7L813.8 474.8L842.3 484.3zM842.3 484.3L812.2 474.3L811.8 475.4L841.9 485.4zM841.9 485.4L809.7 474.7L809.4 475.8L841.6 486.5zM841.6 486.5L808.4 475.5L808.0 476.6L841.2 487.6zM841.2 487.6L809.3 477.0L809.0 478.1L840.8 488.7zM840.8 488.7L808.8 478.1L808.4 479.2L840.5 489.8zM840.5 489.8L808.3 479.1L808.0 480.2L840.1 490.9zM840.1 490.9L809.1 480.6L808.8 481.7L839.7 492.0zM839.7 492.0L806.5 481.0L806.2 482.1L839.4 493.1zM839.4 493.1L808.4 482.8L808.1 483.9L839.0 494.2zM839.0 494.2L805.8 483.2L805.4 484.3L838.6 495.3zM838.6 495.3L807.3 484.9L806.9 486.0L838.3 496.4zM838.3 496.4L806.9 486.0L806.6 487.1L837.9 497.5zM837.9 497.5L804.7 486.5L804.3 487.6L837.6 498.6zM837.6 498.6L804.3 487.6L804.0 488.7L837.2 499.7zM837.2 499.7L805.6 489.2L805.2 490.3L836.8 500.8zM836.8 500.8L804.3 490.0L803.9 491.1L836.5 501.9zM836.5 501.9L804.1 491.2L803.8 492.3L836.1 503.0zM836.1 503.0L803.1 492.0L802.7 493.1L835.7 504.1zM835.7 504.1L804.3 493.7L803.9 494.8L835.4 505.2zM835.4 505.2L802.1 494.2L801.8 495.3L835.0 506.3zM835.0 506.3L801.8 495.3L801.4 496.4L834.6 507.4zM834.6 507.4L801.6 496.4L801.3 497.5L834.3 508.5zM834.3 508.5L801.0 497.5L800.7 498.6L833.9 509.6zM833.9 509.6L800.7 498.6L800.3 499.7L833.5 510.7zM833.5 510.7L801.5 500.1L801.1 501.2L833.2 511.8zM833.2 511.8L800.0 500.8L799.6 501.9L832.8 512.9zM832.8 512.9L799.6 501.9L799.2 503.0L832.4 514.0zM832.4 514.0L799.8 503.2L799.4 504.3L832.1 515.1zM832.1 515.1L800.9 504.7L800.5 505.8L831.7 516.2zM831.7 516.2L799.0 505.3L798.6 506.4L831.3 517.3zM831.3 517.3L798.1 506.3L797.8 507.4L831.0 518.4zM831.0 518.4L799.2 507.8L798.8 508.9L830.6 519.5zM830.6 519.5L797.8 508.6L797.4 509.7L830.2 520.6zM830.2 520.6L797.0 509.6L796.7 510.7L829.9 521.7zM829.9 521.7L797.2 510.8L796.8 511.9L829.5 522.8zM829.5 522.8L798.5 512.5L798.1 513.6L829.1 523.9zM829.1 523.9L796.4 513.0L796.0 514.1L828.8 525.0zM828.8 525.0L797.1 514.5L796.8 515.6L828.4 526.1zM828.4 526.1L795.2 515.1L794.8 516.2L828.0 527.2zM828.0 527.2L795.2 516.3L794.8 517.4L827.7 528.3zM827.7 528.3L795.9 517.7L795.5 518.8L827.3 529.4zM827.3 529.4L794.1 518.4L793.7 519.5L827.0 530.5zM827.0 530.5L794.2 519.6L793.8 520.7L826.6 531.6zM826.6 531.6L794.7 521.0L794.3 522.1L826.2 532.7zM826.2 532.7L794.2 522.0L793.8 523.1L825.9 533.8zM825.9 533.8L795.8 523.8L795.4 524.9L825.5 534.9zM825.5 534.9L795.3 524.9L794.9 526.0L825.1 536.0zM825.1 536.0L800.5 527.8L800.1 528.9L824.8 537.1zM824.8 537.1L802.0 529.5L801.6 530.6L824.4 538.2zM824.4 538.2L797.9 529.4L797.5 530.5L824.0 539.3zM824.0 539.3L809.9 534.6L809.5 535.7L823.7 540.4zM823.7 540.4L805.5 534.4L805.2 535.5L823.3 541.5zM823.3 541.5L805.2 535.5L804.8 536.6L822.9 542.6zM822.9 542.6L804.7 536.5L804.3 537.6L822.6 543.7zM822.6 543.7L806.7 538.4L806.3 539.5L822.2 544.8zM822.2 544.8L809.3 540.5L808.9 541.6L821.8 545.9zM821.8 545.9L809.5 541.8L809.1 542.9L821.5 547.0zM821.5 547.0L810.6 543.4L810.2 544.5L821.1 548.1zM821.1 548.1L812.3 545.2L811.9 546.3L820.7 549.2zM820.7 549.2L809.7 545.5L809.3 546.6L820.4 550.3zM820.4 550.3L809.0 546.5L808.6 547.6L820.0 551.4zM820.0 551.4L809.3 547.9L809.0 549.0L819.6 552.5zM819.6 552.5L808.5 548.8L808.1 549.9L819.3 553.6zM819.3 553.6L813.8 551.8L813.4 552.9L818.9 554.7zM818.9 554.7L809.6 551.6L809.2 552.7L818.5 555.8zM818.5 555.8L813.0 554.0L812.7 555.1L818.2 556.9zM818.2 556.9L811.3 554.6L811.0 555.7L817.8 558.0zM817.8 558.0L812.6 556.3L812.2 557.4L817.4 559.1zM817.4 559.1L810.2 556.7L809.9 557.8L817.1 560.2zM817.1 560.2L806.0 556.5L805.6 557.6L816.7 561.3zM816.7 561.3L808.9 558.7L808.5 559.8L816.4 562.4zM816.4 562.4L810.8 560.6L810.5 561.7L816.0 563.5zM816.0 563.5L809.9 561.5L809.5 562.6L815.6 564.6zM815.6 564.6L807.6 561.9L807.2 563.0L815.3 565.7zM815.3 565.7L808.3 563.4L807.9 564.5L814.9 566.8zM814.9 566.8L805.7 563.7L805.3 564.8L814.5 567.9zM814.5 567.9L809.3 566.2L809.0 567.3L814.2 569.0zM814.2 569.0L806.7 566.5L806.4 567.6L813.8 570.1zM813.8 570.1L803.4 566.6L803.0 567.7L813.4 571.2zM813.4 571.2L807.2 569.1L806.8 570.2L813.1 572.3zM813.1 572.3L808.8 570.9L808.4 572.0L812.7 573.4zM812.7 573.4L807.1 571.5L806.8 572.6L812.3 574.5zM812.3 574.5L807.5 572.9L807.1 574.0L812.0 575.6zM812.0 575.6L807.8 574.2L807.4 575.3L811.6 576.7zM811.6 576.7L805.8 574.8L805.5 575.9L811.2 577.8zM811.2 577.8L807.6 577.0L807.4 578.1L811.0 578.9z"/>
<polyline fill="none" stroke="#000" stroke-width="1.8" points="824.7,269.9 765.2,400 757.3,420 703.9,549"/>
<polyline fill="none" stroke="#000" stroke-width="1.8" points="913,275.5 866,413 811,578.5"/>
<circle cx="824.7" cy="269.9" r="6.6" fill="#fff" stroke="#000" stroke-width="2.4"/><circle cx="824.7" cy="269.9" r="2.3" fill="#3cb832"/>
<circle cx="913" cy="275.5" r="6.6" fill="#fff" stroke="#000" stroke-width="2.4"/><circle cx="913" cy="275.5" r="2.3" fill="#3cb832"/>
<text x="691" y="568.6" font-size="10.9" class="b m">CA-23-001</text>
<text x="808.5" y="597.3" font-size="10.9" class="b m">CA-23-002</text>
<path d="M448.4 231.8L470.5 285.5M1000.1 188.6L1034.5 283M1203.4 164.2L1238.3 258.5" stroke="#000" stroke-width="2" fill="none"/>
<rect x="467.5" y="284.7" width="10.4" height="10.4" fill="#fff" stroke="#000" stroke-width="1.8"/>
<rect x="1031.2" y="283.90000000000003" width="10.4" height="10.4" fill="#fff" stroke="#000" stroke-width="1.8"/>
<rect x="1235.1" y="258.6" width="10.4" height="10.4" fill="#fff" stroke="#000" stroke-width="1.8"/>
<path d="M783.6 273.4L777.4 270.5L768.2 289.7L775 294M770.6 280.6L766.8 277.7L497.2 433.7M880 472.5L893.9 475.8L859.5 565L848.2 560.3M877.8 519.8L885 523L1074.4 406.2" stroke="#0c0620" stroke-width="1.8" fill="none" stroke-linejoin="miter"/>
<rect x="389.95" y="127.65" width="116.70" height="103.60" fill="#fff" stroke="#555" stroke-width="1.1"/>
<text x="448.8" y="143.2" font-size="15" class="b m" fill="#4a7a90">Hand Trench</text>
<text x="448.6" y="157.6" font-size="12.1" class="b m" fill="#4a7a90">(2023)</text>
<text x="448.3" y="178.5" font-size="16.5" class="b m">0.12% Cu</text>
<text x="448.2" y="197.2" font-size="16.5" class="b m">0.48 g/t Au</text>
<path d="M398 207H498.1" stroke="#777" stroke-width="1.2"/>
<text x="448.2" y="224.3" font-size="16.5" class="b m">6 m</text>
<rect x="932.85" y="128.75" width="134.30" height="59.30" fill="#fff" stroke="#555" stroke-width="1.1"/>
<text x="1000.7" y="146.6" font-size="15.2" class="b m" fill="#4a7a90">Outcrop Sample</text>
<text x="1000.3" y="161.9" font-size="12.1" class="b m" fill="#4a7a90">(2022)</text>
<text x="999.9" y="182.8" font-size="16.4" class="b m">1.09% Cu</text>
<rect x="1135.85" y="104.15" width="136.20" height="59.50" fill="#fff" stroke="#555" stroke-width="1.1"/>
<text x="1204.2" y="121.7" font-size="15.2" class="b m" fill="#4a7a90">Outcrop Sample</text>
<text x="1204" y="137.3" font-size="12.1" class="b m" fill="#4a7a90">(2023)</text>
<text x="1203.7" y="157.3" font-size="16.4" class="b m">0.26% Cu</text>
<rect x="355.25" y="384.85" width="141.30" height="99.70" fill="#fff" stroke="#3a2418" stroke-width="1.3"/>
<text x="425.4" y="403.7" font-size="16.45" class="m" fill="#a3673b" stroke="#a3673b" stroke-width="0.6">DDH CA-23-001</text>
<text x="426.6" y="426.2" font-size="19.1" class="b m">0.30% Cu</text>
<text x="426.4" y="448.1" font-size="19.1" class="b m">0.15 g/t Au</text>
<path d="M369 455.6H483.2" stroke="#555" stroke-width="1.2"/>
<text x="426.4" y="476.8" font-size="19.1" class="b m">45.83 m</text>
<rect x="1075.05" y="355.45" width="141.20" height="99.50" fill="#fff" stroke="#3a2418" stroke-width="1.3"/>
<text x="1146.2" y="374.5" font-size="16.45" class="m" fill="#a3673b" stroke="#a3673b" stroke-width="0.6">DDH CA-23-002</text>
<text x="1146.3" y="396.6" font-size="19.1" class="b m">0.31% Cu</text>
<text x="1146.1" y="418.4" font-size="19.1" class="b m">0.30 g/t Au</text>
<path d="M1088.3 426.1H1203" stroke="#555" stroke-width="1.2"/>
<text x="1146.4" y="448" font-size="19.1" class="b m">116.60 m</text>
<rect x="1084.70" y="605.20" width="236.50" height="199.50" fill="#fff" stroke="#111" stroke-width="1.6"/>
<text x="1096.3" y="627.7" font-size="19" class="b">Legend</text>
<text x="1095.6" y="656.2" font-size="16.5">IP Chargeability (mV/V)</text>
<text x="1101.6" y="677.7" font-size="14" class="m">2</text>
<text x="1153.8" y="677.7" font-size="14" class="m">6</text>
<text x="1206.2" y="677.7" font-size="14" class="m">9</text>
<text x="1258.5" y="677.7" font-size="14" class="m">13</text>
<text x="1308.2" y="677.7" font-size="14" class="m">16</text>
<defs><linearGradient id="cb" x1="0" x2="1" y1="0" y2="0"><stop offset="0" stop-color="#0018f0"/><stop offset="0.06" stop-color="#0070ff"/><stop offset="0.125" stop-color="#00f0ff"/><stop offset="0.19" stop-color="#00ff70"/><stop offset="0.25" stop-color="#10f000"/><stop offset="0.31" stop-color="#90ff00"/><stop offset="0.375" stop-color="#ffff00"/><stop offset="0.44" stop-color="#ffb000"/><stop offset="0.5" stop-color="#ff7000"/><stop offset="0.58" stop-color="#ff0000"/><stop offset="0.66" stop-color="#ff0070"/><stop offset="0.75" stop-color="#ff00c8"/><stop offset="0.88" stop-color="#ff30f0"/><stop offset="1" stop-color="#ff90ff"/></linearGradient></defs>
<rect x="1101.9" y="690.8" width="209.3" height="19.2" fill="url(#cb)" stroke="#111" stroke-width="1.5"/>
<path d="M1101.9 686.8V694M1154.5 686.8V694M1206.5 686.8V694M1258.8 686.8V694M1311.2 686.8V694" stroke="#111" stroke-width="1.2"/>
<path d="M1106.8 723.8H1119.2M1119.2 719.8V728.2" stroke="#444" stroke-width="1.4" fill="none"/>
<circle cx="1101.9" cy="723.8" r="4.9" fill="#fff" stroke="#666" stroke-width="1.1"/><circle cx="1101.9" cy="723.8" r="2.1" fill="#3cb93c"/>
<text x="1128.6" y="729.2" font-size="16.5">Diamond Drill Hole*</text>
<rect x="1104.4" y="738.6" width="9.4" height="9.4" fill="#fff" stroke="#555" stroke-width="1.1"/>
<text x="1128.6" y="748.9" font-size="16.5">Highlight Rock Sample</text>
<text x="1092" y="771.1" font-size="11" fill="#666" font-style="italic">*Histograms are linear scale. Red is copper,</text>
<text x="1092" y="783.5" font-size="11" fill="#666" font-style="italic">capped at 0.10% Cu; Orange is gold, capped</text>
<text x="1092" y="795.4" font-size="11" fill="#666" font-style="italic">at 0.10 g/t Au</text>
<rect x="271.65" y="773.25" width="141.10" height="32.60" fill="#fff" stroke="#111" stroke-width="1.5"/>
<text x="343.3" y="787.6" font-size="13.8" class="b m">200 m</text>
<rect x="283.4" y="791.2" width="117.7" height="9.6" fill="#000"/>
<rect x="271.05" y="5.75" width="136.10" height="69.90" fill="#fff" stroke="#222" stroke-width="1.5"/>
<path d="M338.6 10.9L351.9 24.2L349.3 26.8L338.6 16.1L327.9 26.8L325.3 24.2z" fill="#8fa6b3"/>
<path d="M338.6 17.6L348.6 27.6L346 30.2L338.6 22.8L331.2 30.2L328.6 27.6z" fill="#b2601f"/>
<path d="M338.6 24.6L343.8 29.9H333.4z" fill="#dba52c"/>
<text x="280.4" y="50.4" font-size="21" fill="#3f6b7b" stroke="#3f6b7b" stroke-width="0.7" textLength="116.8" lengthAdjust="spacingAndGlyphs">CASCADIA</text>
<text x="281.6" y="65.5" font-size="10.6" fill="#507786" stroke="#507786" stroke-width="0.25" textLength="116.4" lengthAdjust="spacing">MINERALS</text>
<rect x="576.70" y="6.10" width="439.10" height="66.80" fill="#fff" stroke="#222" stroke-width="1.4"/>
<text x="796.5" y="38.3" font-size="33.4" class="b m">Catch IP Chargeabiltiy A-A’</text>
<text x="796.5" y="65.4" font-size="22" class="b m">(November 16, 2023)</text>
<text x="1321.5" y="18.2" font-size="13.9" class="b" text-anchor="end">Looking 265°</text>
<path d="M265.8 0V833M1326.6 0V812M264.8 0.9H1327.6M264.8 811H1327.6M264.8 832.6H1327.6" stroke="#000" stroke-width="2" fill="none"/>
</svg></body></html>
